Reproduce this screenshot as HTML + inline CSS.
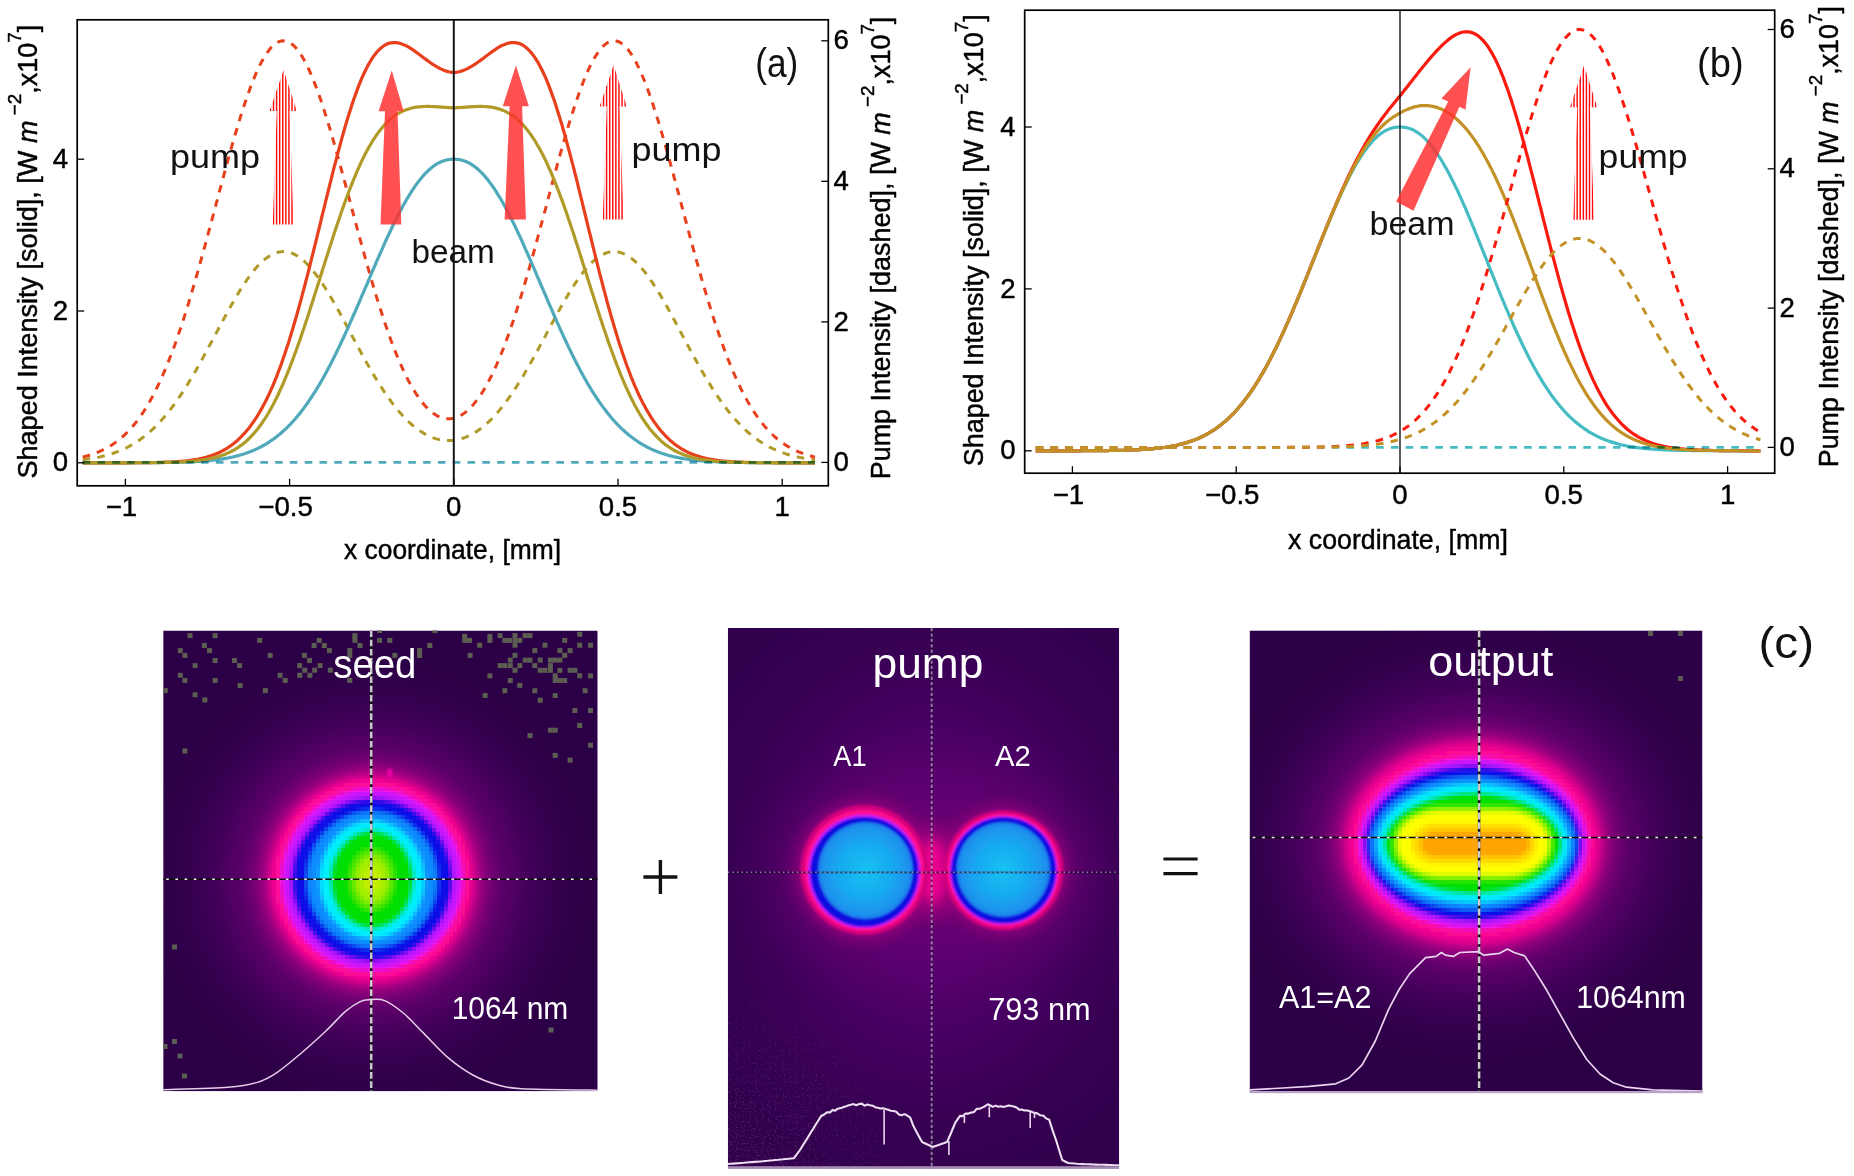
<!DOCTYPE html>
<html><head><meta charset="utf-8"><title>Beam shaping figure</title>
<style>html,body{margin:0;padding:0;background:#fff;}svg{display:block}</style></head><body>
<svg width="1854" height="1176" viewBox="0 0 1854 1176">
<defs>
<filter id="blur3" x="-20%" y="-20%" width="140%" height="140%"><feGaussianBlur stdDeviation="1.9"/></filter>
<filter id="pixSeed" filterUnits="userSpaceOnUse" x="163.2" y="630.5" width="435" height="460"><feFlood x="165.2" y="632.5" height="1" width="1"/><feComposite width="5" height="5"/><feTile result="a"/><feComposite in="SourceGraphic" in2="a" operator="in"/><feMorphology operator="dilate" radius="2"/></filter>
<filter id="pixOut" filterUnits="userSpaceOnUse" x="1249.6" y="630.4" width="455" height="465"><feFlood x="1251.6" y="632.4" height="1" width="1"/><feComposite width="5" height="5"/><feTile result="a"/><feComposite in="SourceGraphic" in2="a" operator="in"/><feMorphology operator="dilate" radius="2"/></filter>
<filter id="noise" filterUnits="userSpaceOnUse" x="727" y="1000" width="240" height="170"><feTurbulence type="fractalNoise" baseFrequency="0.85" numOctaves="1" seed="4"/><feColorMatrix values="0 0 0 0 0.82  0 0 0 0 0.72  0 0 0 0 0.86  0 0 0 3 -1.75"/></filter>
<radialGradient id="noiseG" gradientUnits="userSpaceOnUse" cx="728" cy="1168" r="215"><stop offset="0" stop-color="#fff" stop-opacity="0.5"/><stop offset="0.5" stop-color="#fff" stop-opacity="0.28"/><stop offset="1" stop-color="#fff" stop-opacity="0"/></radialGradient>
<mask id="noiseMask" maskUnits="userSpaceOnUse" x="727" y="1000" width="240" height="170"><rect x="727" y="1000" width="240" height="170" fill="url(#noiseG)"/></mask>
<filter id="blur60" x="-80%" y="-80%" width="260%" height="260%"><feGaussianBlur stdDeviation="52"/></filter>
<filter id="blur28" x="-50%" y="-50%" width="200%" height="200%"><feGaussianBlur stdDeviation="28"/></filter>
<filter id="blur16" x="-50%" y="-50%" width="200%" height="200%"><feGaussianBlur stdDeviation="16"/></filter>
<filter id="blur9" x="-50%" y="-50%" width="200%" height="200%"><feGaussianBlur stdDeviation="9"/></filter>
<filter id="blur5" x="-50%" y="-50%" width="200%" height="200%"><feGaussianBlur stdDeviation="4.5"/></filter>
<filter id="blur2" x="-20%" y="-20%" width="140%" height="140%"><feGaussianBlur stdDeviation="1.3"/></filter>
<radialGradient id="discFill"><stop offset="0" stop-color="#14c2f2"/><stop offset="0.55" stop-color="#18aaf0"/><stop offset="0.9" stop-color="#1e92ee"/><stop offset="1" stop-color="#2074ea"/></radialGradient>
<clipPath id="clipSeed"><rect x="163.2" y="630.5" width="434.5" height="460.8"/></clipPath>
<clipPath id="clipPump"><rect x="727.8" y="628" width="391.4" height="540.8"/></clipPath>
<clipPath id="clipOut"><rect x="1249.6" y="630.4" width="452.9" height="463"/></clipPath>
</defs>
<rect width="1854" height="1176" fill="#fff"/>
<g id="plotA"><path d="M82.7 459.7 L84.4 459.5 L86.0 459.3 L87.6 459.1 L89.3 458.8 L90.9 458.6 L92.6 458.3 L94.2 458.0 L95.8 457.7 L97.5 457.4 L99.1 457.1 L100.8 456.7 L102.4 456.3 L104.1 455.9 L105.7 455.5 L107.3 455.1 L109.0 454.6 L110.6 454.1 L112.3 453.6 L113.9 453.0 L115.5 452.4 L117.2 451.8 L118.8 451.2 L120.5 450.5 L122.1 449.8 L123.8 449.0 L125.4 448.3 L127.0 447.5 L128.7 446.6 L130.3 445.7 L132.0 444.8 L133.6 443.8 L135.3 442.8 L136.9 441.8 L138.5 440.7 L140.2 439.5 L141.8 438.3 L143.5 437.1 L145.1 435.8 L146.7 434.5 L148.4 433.1 L150.0 431.7 L151.7 430.2 L153.3 428.6 L155.0 427.1 L156.6 425.4 L158.2 423.7 L159.9 422.0 L161.5 420.2 L163.2 418.3 L164.8 416.4 L166.5 414.4 L168.1 412.4 L169.7 410.3 L171.4 408.2 L173.0 406.0 L174.7 403.8 L176.3 401.5 L177.9 399.1 L179.6 396.7 L181.2 394.3 L182.9 391.8 L184.5 389.2 L186.2 386.7 L187.8 384.0 L189.4 381.3 L191.1 378.6 L192.7 375.8 L194.4 373.0 L196.0 370.2 L197.6 367.3 L199.3 364.4 L200.9 361.4 L202.6 358.4 L204.2 355.4 L205.9 352.4 L207.5 349.4 L209.1 346.3 L210.8 343.2 L212.4 340.2 L214.1 337.1 L215.7 334.0 L217.4 330.9 L219.0 327.8 L220.6 324.7 L222.3 321.7 L223.9 318.6 L225.6 315.6 L227.2 312.6 L228.8 309.6 L230.5 306.7 L232.1 303.8 L233.8 300.9 L235.4 298.1 L237.1 295.3 L238.7 292.6 L240.3 289.9 L242.0 287.3 L243.6 284.7 L245.3 282.3 L246.9 279.9 L248.6 277.5 L250.2 275.3 L251.8 273.1 L253.5 271.0 L255.1 269.0 L256.8 267.1 L258.4 265.3 L260.0 263.6 L261.7 262.0 L263.3 260.6 L265.0 259.2 L266.6 257.9 L268.3 256.7 L269.9 255.7 L271.5 254.8 L273.2 253.9 L274.8 253.2 L276.5 252.7 L278.1 252.2 L279.7 251.9 L281.4 251.7 L283.0 251.6 L284.7 251.6 L286.3 251.8 L288.0 252.1 L289.6 252.5 L291.2 253.0 L292.9 253.6 L294.5 254.4 L296.2 255.3 L297.8 256.3 L299.5 257.4 L301.1 258.6 L302.7 260.0 L304.4 261.4 L306.0 263.0 L307.7 264.6 L309.3 266.4 L310.9 268.3 L312.6 270.2 L314.2 272.3 L315.9 274.4 L317.5 276.6 L319.2 278.9 L320.8 281.3 L322.4 283.7 L324.1 286.2 L325.7 288.8 L327.4 291.5 L329.0 294.2 L330.7 296.9 L332.3 299.7 L333.9 302.6 L335.6 305.5 L337.2 308.4 L338.9 311.3 L340.5 314.3 L342.1 317.3 L343.8 320.4 L345.4 323.4 L347.1 326.5 L348.7 329.6 L350.4 332.6 L352.0 335.7 L353.6 338.8 L355.3 341.9 L356.9 344.9 L358.6 348.0 L360.2 351.0 L361.8 354.0 L363.5 357.0 L365.1 360.0 L366.8 362.9 L368.4 365.8 L370.1 368.7 L371.7 371.5 L373.3 374.3 L375.0 377.1 L376.6 379.8 L378.3 382.4 L379.9 385.0 L381.6 387.6 L383.2 390.1 L384.8 392.6 L386.5 395.0 L388.1 397.4 L389.8 399.7 L391.4 401.9 L393.0 404.1 L394.7 406.2 L396.3 408.3 L398.0 410.3 L399.6 412.2 L401.3 414.1 L402.9 415.9 L404.5 417.6 L406.2 419.3 L407.8 420.9 L409.5 422.5 L411.1 424.0 L412.8 425.4 L414.4 426.8 L416.0 428.1 L417.7 429.3 L419.3 430.5 L421.0 431.6 L422.6 432.6 L424.2 433.6 L425.9 434.5 L427.5 435.3 L429.2 436.1 L430.8 436.9 L432.5 437.5 L434.1 438.1 L435.7 438.6 L437.4 439.1 L439.0 439.5 L440.7 439.8 L442.3 440.1 L443.9 440.3 L445.6 440.5 L447.2 440.6 L448.9 440.6 L450.5 440.5 L452.2 440.4 L453.8 440.3 L455.4 440.1 L457.1 439.8 L458.7 439.4 L460.4 439.0 L462.0 438.5 L463.7 438.0 L465.3 437.4 L466.9 436.7 L468.6 436.0 L470.2 435.2 L471.9 434.3 L473.5 433.4 L475.1 432.4 L476.8 431.4 L478.4 430.2 L480.1 429.1 L481.7 427.8 L483.4 426.5 L485.0 425.1 L486.6 423.7 L488.3 422.2 L489.9 420.6 L491.6 419.0 L493.2 417.3 L494.9 415.5 L496.5 413.7 L498.1 411.8 L499.8 409.9 L501.4 407.8 L503.1 405.8 L504.7 403.6 L506.3 401.4 L508.0 399.2 L509.6 396.9 L511.3 394.5 L512.9 392.1 L514.6 389.6 L516.2 387.1 L517.8 384.5 L519.5 381.9 L521.1 379.2 L522.8 376.5 L524.4 373.8 L526.0 370.9 L527.7 368.1 L529.3 365.2 L531.0 362.3 L532.6 359.4 L534.3 356.4 L535.9 353.4 L537.5 350.4 L539.2 347.4 L540.8 344.3 L542.5 341.3 L544.1 338.2 L545.8 335.1 L547.4 332.0 L549.0 329.0 L550.7 325.9 L552.3 322.8 L554.0 319.8 L555.6 316.7 L557.2 313.7 L558.9 310.7 L560.5 307.8 L562.2 304.9 L563.8 302.0 L565.5 299.1 L567.1 296.4 L568.7 293.6 L570.4 290.9 L572.0 288.3 L573.7 285.7 L575.3 283.2 L577.0 280.8 L578.6 278.4 L580.2 276.1 L581.9 273.9 L583.5 271.8 L585.2 269.8 L586.8 267.9 L588.4 266.0 L590.1 264.3 L591.7 262.7 L593.4 261.1 L595.0 259.7 L596.7 258.4 L598.3 257.2 L599.9 256.1 L601.6 255.1 L603.2 254.3 L604.9 253.5 L606.5 252.9 L608.1 252.4 L609.8 252.0 L611.4 251.7 L613.1 251.6 L614.7 251.6 L616.4 251.7 L618.0 251.9 L619.6 252.3 L621.3 252.8 L622.9 253.4 L624.6 254.1 L626.2 254.9 L627.9 255.9 L629.5 257.0 L631.1 258.1 L632.8 259.4 L634.4 260.8 L636.1 262.4 L637.7 264.0 L639.3 265.7 L641.0 267.5 L642.6 269.4 L644.3 271.4 L645.9 273.5 L647.6 275.7 L649.2 278.0 L650.8 280.3 L652.5 282.7 L654.1 285.2 L655.8 287.8 L657.4 290.4 L659.1 293.1 L660.7 295.8 L662.3 298.6 L664.0 301.5 L665.6 304.3 L667.3 307.3 L668.9 310.2 L670.5 313.2 L672.2 316.2 L673.8 319.2 L675.5 322.3 L677.1 325.4 L678.8 328.4 L680.4 331.5 L682.0 334.6 L683.7 337.7 L685.3 340.8 L687.0 343.9 L688.6 346.9 L690.2 350.0 L691.9 353.0 L693.5 356.0 L695.2 359.0 L696.8 362.0 L698.5 364.9 L700.1 367.9 L701.7 370.7 L703.4 373.6 L705.0 376.4 L706.7 379.1 L708.3 381.9 L710.0 384.5 L711.6 387.2 L713.2 389.8 L714.9 392.3 L716.5 394.8 L718.2 397.2 L719.8 399.6 L721.4 402.0 L723.1 404.2 L724.7 406.5 L726.4 408.6 L728.0 410.8 L729.7 412.8 L731.3 414.8 L732.9 416.8 L734.6 418.7 L736.2 420.5 L737.9 422.3 L739.5 424.1 L741.1 425.8 L742.8 427.4 L744.4 429.0 L746.1 430.5 L747.7 432.0 L749.4 433.4 L751.0 434.8 L752.6 436.1 L754.3 437.3 L755.9 438.6 L757.6 439.8 L759.2 440.9 L760.9 442.0 L762.5 443.0 L764.1 444.0 L765.8 445.0 L767.4 445.9 L769.1 446.8 L770.7 447.6 L772.3 448.4 L774.0 449.2 L775.6 449.9 L777.3 450.6 L778.9 451.3 L780.6 451.9 L782.2 452.5 L783.8 453.1 L785.5 453.7 L787.1 454.2 L788.8 454.7 L790.4 455.1 L792.1 455.6 L793.7 456.0 L795.3 456.4 L797.0 456.8 L798.6 457.1 L800.3 457.5 L801.9 457.8 L803.5 458.1 L805.2 458.4 L806.8 458.6 L808.5 458.9 L810.1 459.1 L811.8 459.3 L813.4 459.6 L815.0 459.7" fill="none" stroke="#b09a28" stroke-width="3" stroke-dasharray="7.6 7.2"/>
<path d="M82.7 457.0 L84.4 456.6 L86.0 456.2 L87.6 455.8 L89.3 455.3 L90.9 454.8 L92.6 454.2 L94.2 453.7 L95.8 453.1 L97.5 452.4 L99.1 451.7 L100.8 451.0 L102.4 450.2 L104.1 449.4 L105.7 448.6 L107.3 447.7 L109.0 446.8 L110.6 445.8 L112.3 444.7 L113.9 443.6 L115.5 442.4 L117.2 441.2 L118.8 439.9 L120.5 438.6 L122.1 437.2 L123.8 435.7 L125.4 434.1 L127.0 432.5 L128.7 430.8 L130.3 429.0 L132.0 427.2 L133.6 425.3 L135.3 423.2 L136.9 421.1 L138.5 418.9 L140.2 416.6 L141.8 414.3 L143.5 411.8 L145.1 409.2 L146.7 406.6 L148.4 403.8 L150.0 400.9 L151.7 398.0 L153.3 394.9 L155.0 391.7 L156.6 388.4 L158.2 385.1 L159.9 381.6 L161.5 378.0 L163.2 374.2 L164.8 370.4 L166.5 366.5 L168.1 362.4 L169.7 358.3 L171.4 354.0 L173.0 349.6 L174.7 345.2 L176.3 340.6 L177.9 335.9 L179.6 331.1 L181.2 326.2 L182.9 321.2 L184.5 316.1 L186.2 310.9 L187.8 305.6 L189.4 300.2 L191.1 294.8 L192.7 289.2 L194.4 283.6 L196.0 277.9 L197.6 272.2 L199.3 266.3 L200.9 260.4 L202.6 254.5 L204.2 248.5 L205.9 242.4 L207.5 236.4 L209.1 230.2 L210.8 224.1 L212.4 217.9 L214.1 211.8 L215.7 205.6 L217.4 199.4 L219.0 193.2 L220.6 187.1 L222.3 181.0 L223.9 174.9 L225.6 168.8 L227.2 162.8 L228.8 156.8 L230.5 150.9 L232.1 145.1 L233.8 139.4 L235.4 133.7 L237.1 128.2 L238.7 122.7 L240.3 117.4 L242.0 112.2 L243.6 107.1 L245.3 102.1 L246.9 97.3 L248.6 92.6 L250.2 88.1 L251.8 83.8 L253.5 79.7 L255.1 75.7 L256.8 71.9 L258.4 68.3 L260.0 64.9 L261.7 61.7 L263.3 58.7 L265.0 55.9 L266.6 53.4 L268.3 51.1 L269.9 49.0 L271.5 47.1 L273.2 45.5 L274.8 44.1 L276.5 42.9 L278.1 42.0 L279.7 41.4 L281.4 41.0 L283.0 40.8 L284.7 40.9 L286.3 41.2 L288.0 41.7 L289.6 42.5 L291.2 43.6 L292.9 44.9 L294.5 46.4 L296.2 48.2 L297.8 50.2 L299.5 52.4 L301.1 54.9 L302.7 57.6 L304.4 60.5 L306.0 63.6 L307.7 66.9 L309.3 70.4 L310.9 74.1 L312.6 78.0 L314.2 82.1 L315.9 86.4 L317.5 90.8 L319.2 95.4 L320.8 100.1 L322.4 105.0 L324.1 110.1 L325.7 115.2 L327.4 120.5 L329.0 125.9 L330.7 131.4 L332.3 137.0 L333.9 142.7 L335.6 148.5 L337.2 154.4 L338.9 160.3 L340.5 166.3 L342.1 172.3 L343.8 178.4 L345.4 184.5 L347.1 190.6 L348.7 196.7 L350.4 202.9 L352.0 209.0 L353.6 215.2 L355.3 221.3 L356.9 227.5 L358.6 233.6 L360.2 239.6 L361.8 245.6 L363.5 251.6 L365.1 257.5 L366.8 263.4 L368.4 269.2 L370.1 275.0 L371.7 280.6 L373.3 286.2 L375.0 291.7 L376.6 297.1 L378.3 302.5 L379.9 307.7 L381.6 312.8 L383.2 317.9 L384.8 322.8 L386.5 327.6 L388.1 332.3 L389.8 336.9 L391.4 341.4 L393.0 345.7 L394.7 350.0 L396.3 354.1 L398.0 358.1 L399.6 362.0 L401.3 365.7 L402.9 369.4 L404.5 372.8 L406.2 376.2 L407.8 379.5 L409.5 382.6 L411.1 385.6 L412.8 388.4 L414.4 391.1 L416.0 393.7 L417.7 396.2 L419.3 398.5 L421.0 400.7 L422.6 402.8 L424.2 404.8 L425.9 406.6 L427.5 408.3 L429.2 409.9 L430.8 411.3 L432.5 412.6 L434.1 413.8 L435.7 414.9 L437.4 415.8 L439.0 416.6 L440.7 417.3 L442.3 417.8 L443.9 418.2 L445.6 418.5 L447.2 418.7 L448.9 418.8 L450.5 418.7 L452.2 418.5 L453.8 418.2 L455.4 417.7 L457.1 417.1 L458.7 416.4 L460.4 415.6 L462.0 414.7 L463.7 413.6 L465.3 412.4 L466.9 411.0 L468.6 409.6 L470.2 408.0 L471.9 406.2 L473.5 404.4 L475.1 402.4 L476.8 400.3 L478.4 398.1 L480.1 395.7 L481.7 393.2 L483.4 390.6 L485.0 387.9 L486.6 385.0 L488.3 382.0 L489.9 378.8 L491.6 375.6 L493.2 372.2 L494.9 368.6 L496.5 365.0 L498.1 361.2 L499.8 357.3 L501.4 353.3 L503.1 349.1 L504.7 344.9 L506.3 340.5 L508.0 336.0 L509.6 331.4 L511.3 326.6 L512.9 321.8 L514.6 316.9 L516.2 311.8 L517.8 306.7 L519.5 301.4 L521.1 296.1 L522.8 290.6 L524.4 285.1 L526.0 279.5 L527.7 273.8 L529.3 268.1 L531.0 262.2 L532.6 256.4 L534.3 250.4 L535.9 244.4 L537.5 238.4 L539.2 232.3 L540.8 226.2 L542.5 220.1 L544.1 214.0 L545.8 207.8 L547.4 201.7 L549.0 195.5 L550.7 189.4 L552.3 183.2 L554.0 177.1 L555.6 171.1 L557.2 165.1 L558.9 159.1 L560.5 153.2 L562.2 147.3 L563.8 141.6 L565.5 135.9 L567.1 130.3 L568.7 124.8 L570.4 119.4 L572.0 114.2 L573.7 109.0 L575.3 104.0 L577.0 99.2 L578.6 94.5 L580.2 89.9 L581.9 85.5 L583.5 81.3 L585.2 77.2 L586.8 73.4 L588.4 69.7 L590.1 66.2 L591.7 62.9 L593.4 59.9 L595.0 57.0 L596.7 54.4 L598.3 52.0 L599.9 49.8 L601.6 47.8 L603.2 46.1 L604.9 44.6 L606.5 43.4 L608.1 42.4 L609.8 41.6 L611.4 41.1 L613.1 40.8 L614.7 40.8 L616.4 41.0 L618.0 41.5 L619.6 42.2 L621.3 43.2 L622.9 44.4 L624.6 45.8 L626.2 47.5 L627.9 49.4 L629.5 51.5 L631.1 53.9 L632.8 56.5 L634.4 59.3 L636.1 62.3 L637.7 65.6 L639.3 69.0 L641.0 72.6 L642.6 76.5 L644.3 80.5 L645.9 84.7 L647.6 89.0 L649.2 93.6 L650.8 98.3 L652.5 103.1 L654.1 108.1 L655.8 113.2 L657.4 118.4 L659.1 123.8 L660.7 129.3 L662.3 134.8 L664.0 140.5 L665.6 146.3 L667.3 152.1 L668.9 158.0 L670.5 164.0 L672.2 170.0 L673.8 176.1 L675.5 182.2 L677.1 188.3 L678.8 194.5 L680.4 200.6 L682.0 206.8 L683.7 213.0 L685.3 219.2 L687.0 225.3 L688.6 231.5 L690.2 237.6 L691.9 243.7 L693.5 249.7 L695.2 255.7 L696.8 261.6 L698.5 267.5 L700.1 273.3 L701.7 279.1 L703.4 284.8 L705.0 290.4 L706.7 295.9 L708.3 301.3 L710.0 306.7 L711.6 312.0 L713.2 317.1 L714.9 322.2 L716.5 327.2 L718.2 332.1 L719.8 336.8 L721.4 341.5 L723.1 346.1 L724.7 350.5 L726.4 354.9 L728.0 359.1 L729.7 363.3 L731.3 367.3 L732.9 371.2 L734.6 375.0 L736.2 378.7 L737.9 382.3 L739.5 385.7 L741.1 389.1 L742.8 392.4 L744.4 395.5 L746.1 398.6 L747.7 401.5 L749.4 404.4 L751.0 407.1 L752.6 409.7 L754.3 412.3 L755.9 414.7 L757.6 417.1 L759.2 419.4 L760.9 421.6 L762.5 423.6 L764.1 425.6 L765.8 427.6 L767.4 429.4 L769.1 431.2 L770.7 432.9 L772.3 434.5 L774.0 436.0 L775.6 437.5 L777.3 438.9 L778.9 440.2 L780.6 441.5 L782.2 442.7 L783.8 443.8 L785.5 444.9 L787.1 446.0 L788.8 446.9 L790.4 447.9 L792.1 448.8 L793.7 449.6 L795.3 450.4 L797.0 451.2 L798.6 451.9 L800.3 452.5 L801.9 453.2 L803.5 453.8 L805.2 454.3 L806.8 454.9 L808.5 455.4 L810.1 455.8 L811.8 456.3 L813.4 456.7 L815.0 457.1" fill="none" stroke="#e8401c" stroke-width="3" stroke-dasharray="7.6 7.2"/>
<path d="M82.7 462.8 L84.4 462.8 L86.0 462.8 L87.6 462.8 L89.3 462.8 L90.9 462.8 L92.6 462.8 L94.2 462.8 L95.8 462.8 L97.5 462.8 L99.1 462.8 L100.8 462.8 L102.4 462.8 L104.1 462.8 L105.7 462.8 L107.3 462.8 L109.0 462.8 L110.6 462.8 L112.3 462.8 L113.9 462.8 L115.5 462.8 L117.2 462.8 L118.8 462.8 L120.5 462.8 L122.1 462.8 L123.8 462.8 L125.4 462.8 L127.0 462.8 L128.7 462.8 L130.3 462.8 L132.0 462.8 L133.6 462.8 L135.3 462.7 L136.9 462.7 L138.5 462.7 L140.2 462.7 L141.8 462.7 L143.5 462.7 L145.1 462.7 L146.7 462.7 L148.4 462.7 L150.0 462.7 L151.7 462.7 L153.3 462.7 L155.0 462.6 L156.6 462.6 L158.2 462.6 L159.9 462.6 L161.5 462.6 L163.2 462.6 L164.8 462.5 L166.5 462.5 L168.1 462.5 L169.7 462.5 L171.4 462.4 L173.0 462.4 L174.7 462.4 L176.3 462.3 L177.9 462.3 L179.6 462.2 L181.2 462.2 L182.9 462.1 L184.5 462.1 L186.2 462.0 L187.8 461.9 L189.4 461.9 L191.1 461.8 L192.7 461.7 L194.4 461.6 L196.0 461.6 L197.6 461.5 L199.3 461.4 L200.9 461.2 L202.6 461.1 L204.2 461.0 L205.9 460.9 L207.5 460.7 L209.1 460.6 L210.8 460.4 L212.4 460.2 L214.1 460.0 L215.7 459.8 L217.4 459.6 L219.0 459.4 L220.6 459.2 L222.3 458.9 L223.9 458.7 L225.6 458.4 L227.2 458.1 L228.8 457.8 L230.5 457.4 L232.1 457.1 L233.8 456.7 L235.4 456.3 L237.1 455.9 L238.7 455.5 L240.3 455.0 L242.0 454.5 L243.6 454.0 L245.3 453.5 L246.9 452.9 L248.6 452.3 L250.2 451.7 L251.8 451.0 L253.5 450.4 L255.1 449.6 L256.8 448.9 L258.4 448.1 L260.0 447.3 L261.7 446.4 L263.3 445.5 L265.0 444.6 L266.6 443.6 L268.3 442.6 L269.9 441.5 L271.5 440.4 L273.2 439.3 L274.8 438.1 L276.5 436.8 L278.1 435.5 L279.7 434.2 L281.4 432.8 L283.0 431.3 L284.7 429.8 L286.3 428.3 L288.0 426.7 L289.6 425.0 L291.2 423.3 L292.9 421.5 L294.5 419.7 L296.2 417.8 L297.8 415.8 L299.5 413.8 L301.1 411.7 L302.7 409.6 L304.4 407.4 L306.0 405.1 L307.7 402.8 L309.3 400.4 L310.9 398.0 L312.6 395.5 L314.2 392.9 L315.9 390.3 L317.5 387.6 L319.2 384.9 L320.8 382.0 L322.4 379.2 L324.1 376.3 L325.7 373.3 L327.4 370.2 L329.0 367.1 L330.7 364.0 L332.3 360.8 L333.9 357.5 L335.6 354.2 L337.2 350.8 L338.9 347.4 L340.5 344.0 L342.1 340.5 L343.8 337.0 L345.4 333.4 L347.1 329.8 L348.7 326.1 L350.4 322.4 L352.0 318.7 L353.6 315.0 L355.3 311.2 L356.9 307.4 L358.6 303.6 L360.2 299.8 L361.8 296.0 L363.5 292.2 L365.1 288.3 L366.8 284.5 L368.4 280.6 L370.1 276.8 L371.7 272.9 L373.3 269.1 L375.0 265.3 L376.6 261.5 L378.3 257.7 L379.9 254.0 L381.6 250.3 L383.2 246.6 L384.8 242.9 L386.5 239.3 L388.1 235.7 L389.8 232.2 L391.4 228.8 L393.0 225.3 L394.7 222.0 L396.3 218.7 L398.0 215.4 L399.6 212.3 L401.3 209.2 L402.9 206.1 L404.5 203.2 L406.2 200.3 L407.8 197.5 L409.5 194.8 L411.1 192.2 L412.8 189.7 L414.4 187.2 L416.0 184.9 L417.7 182.6 L419.3 180.5 L421.0 178.4 L422.6 176.5 L424.2 174.6 L425.9 172.9 L427.5 171.3 L429.2 169.7 L430.8 168.3 L432.5 167.0 L434.1 165.8 L435.7 164.6 L437.4 163.6 L439.0 162.7 L440.7 162.0 L442.3 161.3 L443.9 160.7 L445.6 160.2 L447.2 159.8 L448.9 159.5 L450.5 159.3 L452.2 159.2 L453.8 159.2 L455.4 159.2 L457.1 159.3 L458.7 159.5 L460.4 159.8 L462.0 160.2 L463.7 160.7 L465.3 161.3 L466.9 162.0 L468.6 162.7 L470.2 163.6 L471.9 164.6 L473.5 165.8 L475.1 167.0 L476.8 168.3 L478.4 169.7 L480.1 171.3 L481.7 172.9 L483.4 174.6 L485.0 176.5 L486.6 178.4 L488.3 180.5 L489.9 182.6 L491.6 184.9 L493.2 187.2 L494.9 189.7 L496.5 192.2 L498.1 194.8 L499.8 197.5 L501.4 200.3 L503.1 203.2 L504.7 206.1 L506.3 209.2 L508.0 212.3 L509.6 215.4 L511.3 218.7 L512.9 222.0 L514.6 225.3 L516.2 228.8 L517.8 232.2 L519.5 235.7 L521.1 239.3 L522.8 242.9 L524.4 246.6 L526.0 250.3 L527.7 254.0 L529.3 257.7 L531.0 261.5 L532.6 265.3 L534.3 269.1 L535.9 272.9 L537.5 276.8 L539.2 280.6 L540.8 284.5 L542.5 288.3 L544.1 292.2 L545.8 296.0 L547.4 299.8 L549.0 303.6 L550.7 307.4 L552.3 311.2 L554.0 315.0 L555.6 318.7 L557.2 322.4 L558.9 326.1 L560.5 329.8 L562.2 333.4 L563.8 337.0 L565.5 340.5 L567.1 344.0 L568.7 347.4 L570.4 350.8 L572.0 354.2 L573.7 357.5 L575.3 360.8 L577.0 364.0 L578.6 367.1 L580.2 370.2 L581.9 373.3 L583.5 376.3 L585.2 379.2 L586.8 382.0 L588.4 384.9 L590.1 387.6 L591.7 390.3 L593.4 392.9 L595.0 395.5 L596.7 398.0 L598.3 400.4 L599.9 402.8 L601.6 405.1 L603.2 407.4 L604.9 409.6 L606.5 411.7 L608.1 413.8 L609.8 415.8 L611.4 417.8 L613.1 419.7 L614.7 421.5 L616.4 423.3 L618.0 425.0 L619.6 426.7 L621.3 428.3 L622.9 429.8 L624.6 431.3 L626.2 432.8 L627.9 434.2 L629.5 435.5 L631.1 436.8 L632.8 438.1 L634.4 439.3 L636.1 440.4 L637.7 441.5 L639.3 442.6 L641.0 443.6 L642.6 444.6 L644.3 445.5 L645.9 446.4 L647.6 447.3 L649.2 448.1 L650.8 448.9 L652.5 449.6 L654.1 450.4 L655.8 451.0 L657.4 451.7 L659.1 452.3 L660.7 452.9 L662.3 453.5 L664.0 454.0 L665.6 454.5 L667.3 455.0 L668.9 455.5 L670.5 455.9 L672.2 456.3 L673.8 456.7 L675.5 457.1 L677.1 457.4 L678.8 457.8 L680.4 458.1 L682.0 458.4 L683.7 458.7 L685.3 458.9 L687.0 459.2 L688.6 459.4 L690.2 459.6 L691.9 459.8 L693.5 460.0 L695.2 460.2 L696.8 460.4 L698.5 460.6 L700.1 460.7 L701.7 460.9 L703.4 461.0 L705.0 461.1 L706.7 461.2 L708.3 461.4 L710.0 461.5 L711.6 461.6 L713.2 461.6 L714.9 461.7 L716.5 461.8 L718.2 461.9 L719.8 461.9 L721.4 462.0 L723.1 462.1 L724.7 462.1 L726.4 462.2 L728.0 462.2 L729.7 462.3 L731.3 462.3 L732.9 462.4 L734.6 462.4 L736.2 462.4 L737.9 462.5 L739.5 462.5 L741.1 462.5 L742.8 462.5 L744.4 462.6 L746.1 462.6 L747.7 462.6 L749.4 462.6 L751.0 462.6 L752.6 462.6 L754.3 462.7 L755.9 462.7 L757.6 462.7 L759.2 462.7 L760.9 462.7 L762.5 462.7 L764.1 462.7 L765.8 462.7 L767.4 462.7 L769.1 462.7 L770.7 462.7 L772.3 462.7 L774.0 462.8 L775.6 462.8 L777.3 462.8 L778.9 462.8 L780.6 462.8 L782.2 462.8 L783.8 462.8 L785.5 462.8 L787.1 462.8 L788.8 462.8 L790.4 462.8 L792.1 462.8 L793.7 462.8 L795.3 462.8 L797.0 462.8 L798.6 462.8 L800.3 462.8 L801.9 462.8 L803.5 462.8 L805.2 462.8 L806.8 462.8 L808.5 462.8 L810.1 462.8 L811.8 462.8 L813.4 462.8 L815.0 462.8" fill="none" stroke="#4fa9ba" stroke-width="3.2"/>
<path d="M82.7 462.8 L84.4 462.8 L86.0 462.8 L87.6 462.8 L89.3 462.8 L90.9 462.8 L92.6 462.8 L94.2 462.8 L95.8 462.8 L97.5 462.8 L99.1 462.8 L100.8 462.8 L102.4 462.8 L104.1 462.8 L105.7 462.8 L107.3 462.8 L109.0 462.8 L110.6 462.8 L112.3 462.8 L113.9 462.8 L115.5 462.8 L117.2 462.8 L118.8 462.8 L120.5 462.8 L122.1 462.8 L123.8 462.8 L125.4 462.8 L127.0 462.8 L128.7 462.7 L130.3 462.7 L132.0 462.7 L133.6 462.7 L135.3 462.7 L136.9 462.7 L138.5 462.7 L140.2 462.7 L141.8 462.7 L143.5 462.7 L145.1 462.6 L146.7 462.6 L148.4 462.6 L150.0 462.6 L151.7 462.5 L153.3 462.5 L155.0 462.5 L156.6 462.5 L158.2 462.4 L159.9 462.4 L161.5 462.3 L163.2 462.3 L164.8 462.2 L166.5 462.2 L168.1 462.1 L169.7 462.0 L171.4 462.0 L173.0 461.9 L174.7 461.8 L176.3 461.7 L177.9 461.6 L179.6 461.4 L181.2 461.3 L182.9 461.2 L184.5 461.0 L186.2 460.8 L187.8 460.7 L189.4 460.5 L191.1 460.2 L192.7 460.0 L194.4 459.7 L196.0 459.5 L197.6 459.2 L199.3 458.9 L200.9 458.5 L202.6 458.1 L204.2 457.7 L205.9 457.3 L207.5 456.8 L209.1 456.3 L210.8 455.8 L212.4 455.3 L214.1 454.6 L215.7 454.0 L217.4 453.3 L219.0 452.6 L220.6 451.8 L222.3 450.9 L223.9 450.0 L225.6 449.1 L227.2 448.1 L228.8 447.0 L230.5 445.9 L232.1 444.7 L233.8 443.4 L235.4 442.1 L237.1 440.7 L238.7 439.2 L240.3 437.6 L242.0 436.0 L243.6 434.2 L245.3 432.4 L246.9 430.5 L248.6 428.5 L250.2 426.4 L251.8 424.1 L253.5 421.8 L255.1 419.4 L256.8 416.9 L258.4 414.2 L260.0 411.4 L261.7 408.6 L263.3 405.6 L265.0 402.4 L266.6 399.2 L268.3 395.8 L269.9 392.3 L271.5 388.6 L273.2 384.8 L274.8 380.9 L276.5 376.8 L278.1 372.5 L279.7 368.2 L281.4 363.7 L283.0 359.0 L284.7 354.2 L286.3 349.3 L288.0 344.3 L289.6 339.1 L291.2 333.8 L292.9 328.3 L294.5 322.7 L296.2 317.0 L297.8 311.2 L299.5 305.3 L301.1 299.3 L302.7 293.2 L304.4 287.0 L306.0 280.7 L307.7 274.3 L309.3 267.8 L310.9 261.3 L312.6 254.7 L314.2 248.1 L315.9 241.4 L317.5 234.7 L319.2 228.0 L320.8 221.3 L322.4 214.5 L324.1 207.8 L325.7 201.1 L327.4 194.4 L329.0 187.8 L330.7 181.2 L332.3 174.7 L333.9 168.2 L335.6 161.9 L337.2 155.6 L338.9 149.4 L340.5 143.3 L342.1 137.4 L343.8 131.5 L345.4 125.8 L347.1 120.3 L348.7 114.9 L350.4 109.7 L352.0 104.6 L353.6 99.8 L355.3 95.1 L356.9 90.6 L358.6 86.2 L360.2 82.1 L361.8 78.2 L363.5 74.5 L365.1 71.0 L366.8 67.7 L368.4 64.6 L370.1 61.7 L371.7 59.1 L373.3 56.6 L375.0 54.4 L376.6 52.4 L378.3 50.5 L379.9 48.9 L381.6 47.5 L383.2 46.2 L384.8 45.2 L386.5 44.3 L388.1 43.6 L389.8 43.1 L391.4 42.8 L393.0 42.6 L394.7 42.6 L396.3 42.7 L398.0 42.9 L399.6 43.3 L401.3 43.8 L402.9 44.4 L404.5 45.1 L406.2 45.8 L407.8 46.7 L409.5 47.7 L411.1 48.7 L412.8 49.8 L414.4 50.9 L416.0 52.1 L417.7 53.2 L419.3 54.5 L421.0 55.7 L422.6 56.9 L424.2 58.2 L425.9 59.4 L427.5 60.6 L429.2 61.8 L430.8 63.0 L432.5 64.1 L434.1 65.2 L435.7 66.2 L437.4 67.1 L439.0 68.0 L440.7 68.9 L442.3 69.6 L443.9 70.3 L445.6 70.9 L447.2 71.4 L448.9 71.8 L450.5 72.1 L452.2 72.3 L453.8 72.4 L455.4 72.3 L457.1 72.1 L458.7 71.8 L460.4 71.4 L462.0 70.9 L463.7 70.3 L465.3 69.6 L466.9 68.9 L468.6 68.0 L470.2 67.1 L471.9 66.2 L473.5 65.2 L475.1 64.1 L476.8 63.0 L478.4 61.8 L480.1 60.6 L481.7 59.4 L483.4 58.2 L485.0 56.9 L486.6 55.7 L488.3 54.5 L489.9 53.2 L491.6 52.1 L493.2 50.9 L494.9 49.8 L496.5 48.7 L498.1 47.7 L499.8 46.7 L501.4 45.8 L503.1 45.1 L504.7 44.4 L506.3 43.8 L508.0 43.3 L509.6 42.9 L511.3 42.7 L512.9 42.6 L514.6 42.6 L516.2 42.8 L517.8 43.1 L519.5 43.6 L521.1 44.3 L522.8 45.2 L524.4 46.2 L526.0 47.5 L527.7 48.9 L529.3 50.5 L531.0 52.4 L532.6 54.4 L534.3 56.6 L535.9 59.1 L537.5 61.7 L539.2 64.6 L540.8 67.7 L542.5 71.0 L544.1 74.5 L545.8 78.2 L547.4 82.1 L549.0 86.2 L550.7 90.6 L552.3 95.1 L554.0 99.8 L555.6 104.6 L557.2 109.7 L558.9 114.9 L560.5 120.3 L562.2 125.8 L563.8 131.5 L565.5 137.4 L567.1 143.3 L568.7 149.4 L570.4 155.6 L572.0 161.9 L573.7 168.2 L575.3 174.7 L577.0 181.2 L578.6 187.8 L580.2 194.4 L581.9 201.1 L583.5 207.8 L585.2 214.5 L586.8 221.3 L588.4 228.0 L590.1 234.7 L591.7 241.4 L593.4 248.1 L595.0 254.7 L596.7 261.3 L598.3 267.8 L599.9 274.3 L601.6 280.7 L603.2 287.0 L604.9 293.2 L606.5 299.3 L608.1 305.3 L609.8 311.2 L611.4 317.0 L613.1 322.7 L614.7 328.3 L616.4 333.8 L618.0 339.1 L619.6 344.3 L621.3 349.3 L622.9 354.2 L624.6 359.0 L626.2 363.7 L627.9 368.2 L629.5 372.5 L631.1 376.8 L632.8 380.9 L634.4 384.8 L636.1 388.6 L637.7 392.3 L639.3 395.8 L641.0 399.2 L642.6 402.4 L644.3 405.6 L645.9 408.6 L647.6 411.4 L649.2 414.2 L650.8 416.9 L652.5 419.4 L654.1 421.8 L655.8 424.1 L657.4 426.4 L659.1 428.5 L660.7 430.5 L662.3 432.4 L664.0 434.2 L665.6 436.0 L667.3 437.6 L668.9 439.2 L670.5 440.7 L672.2 442.1 L673.8 443.4 L675.5 444.7 L677.1 445.9 L678.8 447.0 L680.4 448.1 L682.0 449.1 L683.7 450.0 L685.3 450.9 L687.0 451.8 L688.6 452.6 L690.2 453.3 L691.9 454.0 L693.5 454.6 L695.2 455.3 L696.8 455.8 L698.5 456.3 L700.1 456.8 L701.7 457.3 L703.4 457.7 L705.0 458.1 L706.7 458.5 L708.3 458.9 L710.0 459.2 L711.6 459.5 L713.2 459.7 L714.9 460.0 L716.5 460.2 L718.2 460.5 L719.8 460.7 L721.4 460.8 L723.1 461.0 L724.7 461.2 L726.4 461.3 L728.0 461.4 L729.7 461.6 L731.3 461.7 L732.9 461.8 L734.6 461.9 L736.2 462.0 L737.9 462.0 L739.5 462.1 L741.1 462.2 L742.8 462.2 L744.4 462.3 L746.1 462.3 L747.7 462.4 L749.4 462.4 L751.0 462.5 L752.6 462.5 L754.3 462.5 L755.9 462.5 L757.6 462.6 L759.2 462.6 L760.9 462.6 L762.5 462.6 L764.1 462.7 L765.8 462.7 L767.4 462.7 L769.1 462.7 L770.7 462.7 L772.3 462.7 L774.0 462.7 L775.6 462.7 L777.3 462.7 L778.9 462.7 L780.6 462.8 L782.2 462.8 L783.8 462.8 L785.5 462.8 L787.1 462.8 L788.8 462.8 L790.4 462.8 L792.1 462.8 L793.7 462.8 L795.3 462.8 L797.0 462.8 L798.6 462.8 L800.3 462.8 L801.9 462.8 L803.5 462.8 L805.2 462.8 L806.8 462.8 L808.5 462.8 L810.1 462.8 L811.8 462.8 L813.4 462.8 L815.0 462.8" fill="none" stroke="#e8401c" stroke-width="3.2"/>
<path d="M82.7 462.8 L84.4 462.8 L86.0 462.8 L87.6 462.8 L89.3 462.8 L90.9 462.8 L92.6 462.8 L94.2 462.8 L95.8 462.8 L97.5 462.8 L99.1 462.8 L100.8 462.8 L102.4 462.8 L104.1 462.8 L105.7 462.8 L107.3 462.8 L109.0 462.8 L110.6 462.8 L112.3 462.8 L113.9 462.8 L115.5 462.8 L117.2 462.8 L118.8 462.8 L120.5 462.8 L122.1 462.8 L123.8 462.8 L125.4 462.8 L127.0 462.8 L128.7 462.8 L130.3 462.8 L132.0 462.8 L133.6 462.7 L135.3 462.7 L136.9 462.7 L138.5 462.7 L140.2 462.7 L141.8 462.7 L143.5 462.7 L145.1 462.7 L146.7 462.7 L148.4 462.7 L150.0 462.7 L151.7 462.6 L153.3 462.6 L155.0 462.6 L156.6 462.6 L158.2 462.6 L159.9 462.5 L161.5 462.5 L163.2 462.5 L164.8 462.4 L166.5 462.4 L168.1 462.4 L169.7 462.3 L171.4 462.3 L173.0 462.2 L174.7 462.2 L176.3 462.1 L177.9 462.1 L179.6 462.0 L181.2 461.9 L182.9 461.8 L184.5 461.7 L186.2 461.6 L187.8 461.5 L189.4 461.4 L191.1 461.3 L192.7 461.1 L194.4 461.0 L196.0 460.8 L197.6 460.6 L199.3 460.4 L200.9 460.2 L202.6 460.0 L204.2 459.7 L205.9 459.5 L207.5 459.2 L209.1 458.8 L210.8 458.5 L212.4 458.1 L214.1 457.7 L215.7 457.3 L217.4 456.9 L219.0 456.4 L220.6 455.8 L222.3 455.3 L223.9 454.7 L225.6 454.0 L227.2 453.3 L228.8 452.6 L230.5 451.8 L232.1 451.0 L233.8 450.1 L235.4 449.1 L237.1 448.1 L238.7 447.0 L240.3 445.9 L242.0 444.7 L243.6 443.4 L245.3 442.0 L246.9 440.6 L248.6 439.0 L250.2 437.4 L251.8 435.7 L253.5 433.9 L255.1 432.0 L256.8 430.1 L258.4 428.0 L260.0 425.8 L261.7 423.5 L263.3 421.1 L265.0 418.7 L266.6 416.0 L268.3 413.3 L269.9 410.5 L271.5 407.6 L273.2 404.5 L274.8 401.3 L276.5 398.1 L278.1 394.7 L279.7 391.1 L281.4 387.5 L283.0 383.8 L284.7 379.9 L286.3 376.0 L288.0 371.9 L289.6 367.8 L291.2 363.6 L292.9 359.2 L294.5 354.8 L296.2 350.3 L297.8 345.7 L299.5 341.1 L301.1 336.3 L302.7 331.5 L304.4 326.7 L306.0 321.7 L307.7 316.7 L309.3 311.7 L310.9 306.6 L312.6 301.5 L314.2 296.3 L315.9 291.2 L317.5 286.0 L319.2 280.7 L320.8 275.5 L322.4 270.3 L324.1 265.1 L325.7 259.9 L327.4 254.7 L329.0 249.6 L330.7 244.4 L332.3 239.4 L333.9 234.3 L335.6 229.3 L337.2 224.4 L338.9 219.5 L340.5 214.8 L342.1 210.0 L343.8 205.4 L345.4 200.8 L347.1 196.4 L348.7 192.0 L350.4 187.7 L352.0 183.6 L353.6 179.5 L355.3 175.6 L356.9 171.7 L358.6 168.0 L360.2 164.4 L361.8 160.9 L363.5 157.5 L365.1 154.3 L366.8 151.1 L368.4 148.1 L370.1 145.2 L371.7 142.5 L373.3 139.8 L375.0 137.3 L376.6 134.9 L378.3 132.6 L379.9 130.4 L381.6 128.4 L383.2 126.5 L384.8 124.6 L386.5 122.9 L388.1 121.3 L389.8 119.8 L391.4 118.4 L393.0 117.1 L394.7 115.9 L396.3 114.7 L398.0 113.7 L399.6 112.8 L401.3 111.9 L402.9 111.1 L404.5 110.4 L406.2 109.8 L407.8 109.2 L409.5 108.7 L411.1 108.2 L412.8 107.8 L414.4 107.5 L416.0 107.2 L417.7 107.0 L419.3 106.8 L421.0 106.7 L422.6 106.6 L424.2 106.5 L425.9 106.4 L427.5 106.4 L429.2 106.4 L430.8 106.5 L432.5 106.6 L434.1 106.6 L435.7 106.7 L437.4 106.8 L439.0 106.9 L440.7 107.1 L442.3 107.2 L443.9 107.3 L445.6 107.4 L447.2 107.5 L448.9 107.6 L450.5 107.7 L452.2 107.8 L453.8 107.8 L455.4 107.8 L457.1 107.7 L458.7 107.6 L460.4 107.5 L462.0 107.4 L463.7 107.3 L465.3 107.2 L466.9 107.1 L468.6 106.9 L470.2 106.8 L471.9 106.7 L473.5 106.6 L475.1 106.6 L476.8 106.5 L478.4 106.4 L480.1 106.4 L481.7 106.4 L483.4 106.5 L485.0 106.6 L486.6 106.7 L488.3 106.8 L489.9 107.0 L491.6 107.2 L493.2 107.5 L494.9 107.8 L496.5 108.2 L498.1 108.7 L499.8 109.2 L501.4 109.8 L503.1 110.4 L504.7 111.1 L506.3 111.9 L508.0 112.8 L509.6 113.7 L511.3 114.7 L512.9 115.9 L514.6 117.1 L516.2 118.4 L517.8 119.8 L519.5 121.3 L521.1 122.9 L522.8 124.6 L524.4 126.5 L526.0 128.4 L527.7 130.4 L529.3 132.6 L531.0 134.9 L532.6 137.3 L534.3 139.8 L535.9 142.5 L537.5 145.2 L539.2 148.1 L540.8 151.1 L542.5 154.3 L544.1 157.5 L545.8 160.9 L547.4 164.4 L549.0 168.0 L550.7 171.7 L552.3 175.6 L554.0 179.5 L555.6 183.6 L557.2 187.7 L558.9 192.0 L560.5 196.4 L562.2 200.8 L563.8 205.4 L565.5 210.0 L567.1 214.8 L568.7 219.5 L570.4 224.4 L572.0 229.3 L573.7 234.3 L575.3 239.4 L577.0 244.4 L578.6 249.6 L580.2 254.7 L581.9 259.9 L583.5 265.1 L585.2 270.3 L586.8 275.5 L588.4 280.7 L590.1 286.0 L591.7 291.2 L593.4 296.3 L595.0 301.5 L596.7 306.6 L598.3 311.7 L599.9 316.7 L601.6 321.7 L603.2 326.7 L604.9 331.5 L606.5 336.3 L608.1 341.1 L609.8 345.7 L611.4 350.3 L613.1 354.8 L614.7 359.2 L616.4 363.6 L618.0 367.8 L619.6 371.9 L621.3 376.0 L622.9 379.9 L624.6 383.8 L626.2 387.5 L627.9 391.1 L629.5 394.7 L631.1 398.1 L632.8 401.3 L634.4 404.5 L636.1 407.6 L637.7 410.5 L639.3 413.3 L641.0 416.0 L642.6 418.7 L644.3 421.1 L645.9 423.5 L647.6 425.8 L649.2 428.0 L650.8 430.1 L652.5 432.0 L654.1 433.9 L655.8 435.7 L657.4 437.4 L659.1 439.0 L660.7 440.6 L662.3 442.0 L664.0 443.4 L665.6 444.7 L667.3 445.9 L668.9 447.0 L670.5 448.1 L672.2 449.1 L673.8 450.1 L675.5 451.0 L677.1 451.8 L678.8 452.6 L680.4 453.3 L682.0 454.0 L683.7 454.7 L685.3 455.3 L687.0 455.8 L688.6 456.4 L690.2 456.9 L691.9 457.3 L693.5 457.7 L695.2 458.1 L696.8 458.5 L698.5 458.8 L700.1 459.2 L701.7 459.5 L703.4 459.7 L705.0 460.0 L706.7 460.2 L708.3 460.4 L710.0 460.6 L711.6 460.8 L713.2 461.0 L714.9 461.1 L716.5 461.3 L718.2 461.4 L719.8 461.5 L721.4 461.6 L723.1 461.7 L724.7 461.8 L726.4 461.9 L728.0 462.0 L729.7 462.1 L731.3 462.1 L732.9 462.2 L734.6 462.2 L736.2 462.3 L737.9 462.3 L739.5 462.4 L741.1 462.4 L742.8 462.4 L744.4 462.5 L746.1 462.5 L747.7 462.5 L749.4 462.6 L751.0 462.6 L752.6 462.6 L754.3 462.6 L755.9 462.6 L757.6 462.7 L759.2 462.7 L760.9 462.7 L762.5 462.7 L764.1 462.7 L765.8 462.7 L767.4 462.7 L769.1 462.7 L770.7 462.7 L772.3 462.7 L774.0 462.7 L775.6 462.8 L777.3 462.8 L778.9 462.8 L780.6 462.8 L782.2 462.8 L783.8 462.8 L785.5 462.8 L787.1 462.8 L788.8 462.8 L790.4 462.8 L792.1 462.8 L793.7 462.8 L795.3 462.8 L797.0 462.8 L798.6 462.8 L800.3 462.8 L801.9 462.8 L803.5 462.8 L805.2 462.8 L806.8 462.8 L808.5 462.8 L810.1 462.8 L811.8 462.8 L813.4 462.8 L815.0 462.8" fill="none" stroke="#b09a28" stroke-width="3.2"/>
<path d="M82.7 462.4 L84.4 462.4 L86.0 462.4 L87.6 462.4 L89.3 462.4 L90.9 462.4 L92.6 462.4 L94.2 462.4 L95.8 462.4 L97.5 462.4 L99.1 462.4 L100.8 462.4 L102.4 462.4 L104.1 462.4 L105.7 462.4 L107.3 462.4 L109.0 462.4 L110.6 462.4 L112.3 462.4 L113.9 462.4 L115.5 462.4 L117.2 462.4 L118.8 462.4 L120.5 462.4 L122.1 462.4 L123.8 462.4 L125.4 462.4 L127.0 462.4 L128.7 462.4 L130.3 462.4 L132.0 462.4 L133.6 462.4 L135.3 462.4 L136.9 462.4 L138.5 462.4 L140.2 462.4 L141.8 462.4 L143.5 462.4 L145.1 462.4 L146.7 462.4 L148.4 462.4 L150.0 462.4 L151.7 462.4 L153.3 462.4 L155.0 462.4 L156.6 462.4 L158.2 462.4 L159.9 462.4 L161.5 462.4 L163.2 462.4 L164.8 462.4 L166.5 462.4 L168.1 462.4 L169.7 462.4 L171.4 462.4 L173.0 462.4 L174.7 462.4 L176.3 462.4 L177.9 462.4 L179.6 462.4 L181.2 462.4 L182.9 462.4 L184.5 462.4 L186.2 462.4 L187.8 462.4 L189.4 462.4 L191.1 462.4 L192.7 462.4 L194.4 462.4 L196.0 462.4 L197.6 462.4 L199.3 462.4 L200.9 462.4 L202.6 462.4 L204.2 462.4 L205.9 462.4 L207.5 462.4 L209.1 462.4 L210.8 462.4 L212.4 462.4 L214.1 462.4 L215.7 462.4 L217.4 462.4 L219.0 462.4 L220.6 462.4 L222.3 462.4 L223.9 462.4 L225.6 462.4 L227.2 462.4 L228.8 462.4 L230.5 462.4 L232.1 462.4 L233.8 462.4 L235.4 462.4 L237.1 462.4 L238.7 462.4 L240.3 462.4 L242.0 462.4 L243.6 462.4 L245.3 462.4 L246.9 462.4 L248.6 462.4 L250.2 462.4 L251.8 462.4 L253.5 462.4 L255.1 462.4 L256.8 462.4 L258.4 462.4 L260.0 462.4 L261.7 462.4 L263.3 462.4 L265.0 462.4 L266.6 462.4 L268.3 462.4 L269.9 462.4 L271.5 462.4 L273.2 462.4 L274.8 462.4 L276.5 462.4 L278.1 462.4 L279.7 462.4 L281.4 462.4 L283.0 462.4 L284.7 462.4 L286.3 462.4 L288.0 462.4 L289.6 462.4 L291.2 462.4 L292.9 462.4 L294.5 462.4 L296.2 462.4 L297.8 462.4 L299.5 462.4 L301.1 462.4 L302.7 462.4 L304.4 462.4 L306.0 462.4 L307.7 462.4 L309.3 462.4 L310.9 462.4 L312.6 462.4 L314.2 462.4 L315.9 462.4 L317.5 462.4 L319.2 462.4 L320.8 462.4 L322.4 462.4 L324.1 462.4 L325.7 462.4 L327.4 462.4 L329.0 462.4 L330.7 462.4 L332.3 462.4 L333.9 462.4 L335.6 462.4 L337.2 462.4 L338.9 462.4 L340.5 462.4 L342.1 462.4 L343.8 462.4 L345.4 462.4 L347.1 462.4 L348.7 462.4 L350.4 462.4 L352.0 462.4 L353.6 462.4 L355.3 462.4 L356.9 462.4 L358.6 462.4 L360.2 462.4 L361.8 462.4 L363.5 462.4 L365.1 462.4 L366.8 462.4 L368.4 462.4 L370.1 462.4 L371.7 462.4 L373.3 462.4 L375.0 462.4 L376.6 462.4 L378.3 462.4 L379.9 462.4 L381.6 462.4 L383.2 462.4 L384.8 462.4 L386.5 462.4 L388.1 462.4 L389.8 462.4 L391.4 462.4 L393.0 462.4 L394.7 462.4 L396.3 462.4 L398.0 462.4 L399.6 462.4 L401.3 462.4 L402.9 462.4 L404.5 462.4 L406.2 462.4 L407.8 462.4 L409.5 462.4 L411.1 462.4 L412.8 462.4 L414.4 462.4 L416.0 462.4 L417.7 462.4 L419.3 462.4 L421.0 462.4 L422.6 462.4 L424.2 462.4 L425.9 462.4 L427.5 462.4 L429.2 462.4 L430.8 462.4 L432.5 462.4 L434.1 462.4 L435.7 462.4 L437.4 462.4 L439.0 462.4 L440.7 462.4 L442.3 462.4 L443.9 462.4 L445.6 462.4 L447.2 462.4 L448.9 462.4 L450.5 462.4 L452.2 462.4 L453.8 462.4 L455.4 462.4 L457.1 462.4 L458.7 462.4 L460.4 462.4 L462.0 462.4 L463.7 462.4 L465.3 462.4 L466.9 462.4 L468.6 462.4 L470.2 462.4 L471.9 462.4 L473.5 462.4 L475.1 462.4 L476.8 462.4 L478.4 462.4 L480.1 462.4 L481.7 462.4 L483.4 462.4 L485.0 462.4 L486.6 462.4 L488.3 462.4 L489.9 462.4 L491.6 462.4 L493.2 462.4 L494.9 462.4 L496.5 462.4 L498.1 462.4 L499.8 462.4 L501.4 462.4 L503.1 462.4 L504.7 462.4 L506.3 462.4 L508.0 462.4 L509.6 462.4 L511.3 462.4 L512.9 462.4 L514.6 462.4 L516.2 462.4 L517.8 462.4 L519.5 462.4 L521.1 462.4 L522.8 462.4 L524.4 462.4 L526.0 462.4 L527.7 462.4 L529.3 462.4 L531.0 462.4 L532.6 462.4 L534.3 462.4 L535.9 462.4 L537.5 462.4 L539.2 462.4 L540.8 462.4 L542.5 462.4 L544.1 462.4 L545.8 462.4 L547.4 462.4 L549.0 462.4 L550.7 462.4 L552.3 462.4 L554.0 462.4 L555.6 462.4 L557.2 462.4 L558.9 462.4 L560.5 462.4 L562.2 462.4 L563.8 462.4 L565.5 462.4 L567.1 462.4 L568.7 462.4 L570.4 462.4 L572.0 462.4 L573.7 462.4 L575.3 462.4 L577.0 462.4 L578.6 462.4 L580.2 462.4 L581.9 462.4 L583.5 462.4 L585.2 462.4 L586.8 462.4 L588.4 462.4 L590.1 462.4 L591.7 462.4 L593.4 462.4 L595.0 462.4 L596.7 462.4 L598.3 462.4 L599.9 462.4 L601.6 462.4 L603.2 462.4 L604.9 462.4 L606.5 462.4 L608.1 462.4 L609.8 462.4 L611.4 462.4 L613.1 462.4 L614.7 462.4 L616.4 462.4 L618.0 462.4 L619.6 462.4 L621.3 462.4 L622.9 462.4 L624.6 462.4 L626.2 462.4 L627.9 462.4 L629.5 462.4 L631.1 462.4 L632.8 462.4 L634.4 462.4 L636.1 462.4 L637.7 462.4 L639.3 462.4 L641.0 462.4 L642.6 462.4 L644.3 462.4 L645.9 462.4 L647.6 462.4 L649.2 462.4 L650.8 462.4 L652.5 462.4 L654.1 462.4 L655.8 462.4 L657.4 462.4 L659.1 462.4 L660.7 462.4 L662.3 462.4 L664.0 462.4 L665.6 462.4 L667.3 462.4 L668.9 462.4 L670.5 462.4 L672.2 462.4 L673.8 462.4 L675.5 462.4 L677.1 462.4 L678.8 462.4 L680.4 462.4 L682.0 462.4 L683.7 462.4 L685.3 462.4 L687.0 462.4 L688.6 462.4 L690.2 462.4 L691.9 462.4 L693.5 462.4 L695.2 462.4 L696.8 462.4 L698.5 462.4 L700.1 462.4 L701.7 462.4 L703.4 462.4 L705.0 462.4 L706.7 462.4 L708.3 462.4 L710.0 462.4 L711.6 462.4 L713.2 462.4 L714.9 462.4 L716.5 462.4 L718.2 462.4 L719.8 462.4 L721.4 462.4 L723.1 462.4 L724.7 462.4 L726.4 462.4 L728.0 462.4 L729.7 462.4 L731.3 462.4 L732.9 462.4 L734.6 462.4 L736.2 462.4 L737.9 462.4 L739.5 462.4 L741.1 462.4 L742.8 462.4 L744.4 462.4 L746.1 462.4 L747.7 462.4 L749.4 462.4 L751.0 462.4 L752.6 462.4 L754.3 462.4 L755.9 462.4 L757.6 462.4 L759.2 462.4 L760.9 462.4 L762.5 462.4 L764.1 462.4 L765.8 462.4 L767.4 462.4 L769.1 462.4 L770.7 462.4 L772.3 462.4 L774.0 462.4 L775.6 462.4 L777.3 462.4 L778.9 462.4 L780.6 462.4 L782.2 462.4 L783.8 462.4 L785.5 462.4 L787.1 462.4 L788.8 462.4 L790.4 462.4 L792.1 462.4 L793.7 462.4 L795.3 462.4 L797.0 462.4 L798.6 462.4 L800.3 462.4 L801.9 462.4 L803.5 462.4 L805.2 462.4 L806.8 462.4 L808.5 462.4 L810.1 462.4 L811.8 462.4 L813.4 462.4 L815.0 462.4" fill="none" stroke="#4fa9ba" stroke-width="2.9" stroke-dasharray="7.6 7.2" style="mix-blend-mode:multiply"/>
<line x1="453.8" y1="19.8" x2="453.8" y2="485.8" stroke="#161616" stroke-width="2"/>
<rect x="77.2" y="19.8" width="751.1" height="466.0" fill="none" stroke="#000" stroke-width="1.7"/>
<line x1="125.4" y1="485.8" x2="125.4" y2="478.8" stroke="#000" stroke-width="1.3"/>
<text x="121.4" y="516" text-anchor="middle" font-size="27.6" font-family="Liberation Sans, Arial, sans-serif" stroke="#000" stroke-width="0.45" paint-order="stroke">−1</text>
<line x1="289.6" y1="485.8" x2="289.6" y2="478.8" stroke="#000" stroke-width="1.3"/>
<text x="285.6" y="516" text-anchor="middle" font-size="27.6" font-family="Liberation Sans, Arial, sans-serif" stroke="#000" stroke-width="0.45" paint-order="stroke">−0.5</text>
<line x1="453.8" y1="485.8" x2="453.8" y2="478.8" stroke="#000" stroke-width="1.3"/>
<text x="453.8" y="516" text-anchor="middle" font-size="27.6" font-family="Liberation Sans, Arial, sans-serif" stroke="#000" stroke-width="0.45" paint-order="stroke">0</text>
<line x1="618.0" y1="485.8" x2="618.0" y2="478.8" stroke="#000" stroke-width="1.3"/>
<text x="618.0" y="516" text-anchor="middle" font-size="27.6" font-family="Liberation Sans, Arial, sans-serif" stroke="#000" stroke-width="0.45" paint-order="stroke">0.5</text>
<line x1="782.2" y1="485.8" x2="782.2" y2="478.8" stroke="#000" stroke-width="1.3"/>
<text x="782.2" y="516" text-anchor="middle" font-size="27.6" font-family="Liberation Sans, Arial, sans-serif" stroke="#000" stroke-width="0.45" paint-order="stroke">1</text>
<line x1="77.2" y1="462.8" x2="84.2" y2="462.8" stroke="#000" stroke-width="1.3"/>
<text x="68" y="471.4" text-anchor="end" font-size="27.6" font-family="Liberation Sans, Arial, sans-serif" stroke="#000" stroke-width="0.45" paint-order="stroke">0</text>
<line x1="77.2" y1="311.0" x2="84.2" y2="311.0" stroke="#000" stroke-width="1.3"/>
<text x="68" y="319.6" text-anchor="end" font-size="27.6" font-family="Liberation Sans, Arial, sans-serif" stroke="#000" stroke-width="0.45" paint-order="stroke">2</text>
<line x1="77.2" y1="159.2" x2="84.2" y2="159.2" stroke="#000" stroke-width="1.3"/>
<text x="68" y="167.8" text-anchor="end" font-size="27.6" font-family="Liberation Sans, Arial, sans-serif" stroke="#000" stroke-width="0.45" paint-order="stroke">4</text>
<line x1="828.3" y1="462.4" x2="821.3" y2="462.4" stroke="#000" stroke-width="1.3"/>
<text x="833.5" y="471.0" font-size="27.6" font-family="Liberation Sans, Arial, sans-serif" stroke="#000" stroke-width="0.45" paint-order="stroke">0</text>
<line x1="828.3" y1="321.9" x2="821.3" y2="321.9" stroke="#000" stroke-width="1.3"/>
<text x="833.5" y="330.5" font-size="27.6" font-family="Liberation Sans, Arial, sans-serif" stroke="#000" stroke-width="0.45" paint-order="stroke">2</text>
<line x1="828.3" y1="181.3" x2="821.3" y2="181.3" stroke="#000" stroke-width="1.3"/>
<text x="833.5" y="189.9" font-size="27.6" font-family="Liberation Sans, Arial, sans-serif" stroke="#000" stroke-width="0.45" paint-order="stroke">4</text>
<line x1="828.3" y1="40.8" x2="821.3" y2="40.8" stroke="#000" stroke-width="1.3"/>
<text x="833.5" y="49.4" font-size="27.6" font-family="Liberation Sans, Arial, sans-serif" stroke="#000" stroke-width="0.45" paint-order="stroke">6</text>
<text x="452.5" y="559" text-anchor="middle" font-size="27.3" textLength="217" lengthAdjust="spacingAndGlyphs" font-family="Liberation Sans, Arial, sans-serif" stroke="#000" stroke-width="0.45" paint-order="stroke">x coordinate, [mm]</text>
<text transform="translate(36.8 251.6) rotate(-90)" text-anchor="middle" font-size="27.3" textLength="454" lengthAdjust="spacingAndGlyphs" font-family="Liberation Sans, Arial, sans-serif" stroke="#000" stroke-width="0.45" paint-order="stroke">Shaped Intensity [solid], [W <tspan font-style="italic">m</tspan><tspan dy="-15.5" font-size="19"> −2</tspan><tspan dy="15.5">,x10</tspan><tspan dy="-15.5" font-size="19">7</tspan><tspan dy="15.5">]</tspan></text>
<text transform="translate(889.6 248) rotate(-90)" text-anchor="middle" font-size="27.3" textLength="462.7" lengthAdjust="spacingAndGlyphs" font-family="Liberation Sans, Arial, sans-serif" stroke="#000" stroke-width="0.45" paint-order="stroke">Pump Intensity [dashed], [W <tspan font-style="italic">m</tspan><tspan dy="-15.5" font-size="19"> −2</tspan><tspan dy="15.5">,x10</tspan><tspan dy="-15.5" font-size="19">7</tspan><tspan dy="15.5">]</tspan></text></g>
<g id="plotB"><path d="M1035.7 450.8 L1037.3 450.8 L1039.0 450.8 L1040.6 450.8 L1042.3 450.8 L1043.9 450.8 L1045.5 450.8 L1047.2 450.8 L1048.8 450.8 L1050.5 450.8 L1052.1 450.8 L1053.7 450.8 L1055.4 450.8 L1057.0 450.8 L1058.7 450.8 L1060.3 450.8 L1061.9 450.8 L1063.6 450.8 L1065.2 450.8 L1066.9 450.8 L1068.5 450.8 L1070.1 450.8 L1071.8 450.8 L1073.4 450.8 L1075.1 450.8 L1076.7 450.8 L1078.3 450.8 L1080.0 450.8 L1081.6 450.7 L1083.3 450.7 L1084.9 450.7 L1086.5 450.7 L1088.2 450.7 L1089.8 450.7 L1091.5 450.7 L1093.1 450.7 L1094.7 450.7 L1096.4 450.7 L1098.0 450.7 L1099.6 450.6 L1101.3 450.6 L1102.9 450.6 L1104.6 450.6 L1106.2 450.6 L1107.8 450.6 L1109.5 450.5 L1111.1 450.5 L1112.8 450.5 L1114.4 450.5 L1116.0 450.4 L1117.7 450.4 L1119.3 450.4 L1121.0 450.3 L1122.6 450.3 L1124.2 450.3 L1125.9 450.2 L1127.5 450.2 L1129.2 450.1 L1130.8 450.0 L1132.4 450.0 L1134.1 449.9 L1135.7 449.8 L1137.4 449.8 L1139.0 449.7 L1140.6 449.6 L1142.3 449.5 L1143.9 449.4 L1145.6 449.3 L1147.2 449.2 L1148.8 449.1 L1150.5 448.9 L1152.1 448.8 L1153.8 448.6 L1155.4 448.5 L1157.0 448.3 L1158.7 448.1 L1160.3 447.9 L1161.9 447.7 L1163.6 447.5 L1165.2 447.3 L1166.9 447.0 L1168.5 446.8 L1170.1 446.5 L1171.8 446.2 L1173.4 445.9 L1175.1 445.5 L1176.7 445.2 L1178.3 444.8 L1180.0 444.4 L1181.6 444.0 L1183.3 443.6 L1184.9 443.1 L1186.5 442.6 L1188.2 442.1 L1189.8 441.6 L1191.5 441.0 L1193.1 440.4 L1194.7 439.8 L1196.4 439.2 L1198.0 438.5 L1199.7 437.8 L1201.3 437.0 L1202.9 436.2 L1204.6 435.4 L1206.2 434.5 L1207.9 433.6 L1209.5 432.7 L1211.1 431.7 L1212.8 430.6 L1214.4 429.6 L1216.1 428.5 L1217.7 427.3 L1219.3 426.1 L1221.0 424.8 L1222.6 423.5 L1224.2 422.1 L1225.9 420.7 L1227.5 419.2 L1229.2 417.7 L1230.8 416.1 L1232.4 414.5 L1234.1 412.8 L1235.7 411.0 L1237.4 409.2 L1239.0 407.3 L1240.6 405.4 L1242.3 403.4 L1243.9 401.3 L1245.6 399.1 L1247.2 397.0 L1248.8 394.7 L1250.5 392.4 L1252.1 390.0 L1253.8 387.5 L1255.4 385.0 L1257.0 382.4 L1258.7 379.8 L1260.3 377.0 L1262.0 374.2 L1263.6 371.4 L1265.2 368.5 L1266.9 365.5 L1268.5 362.5 L1270.2 359.3 L1271.8 356.2 L1273.4 352.9 L1275.1 349.7 L1276.7 346.3 L1278.4 342.9 L1280.0 339.4 L1281.6 335.9 L1283.3 332.3 L1284.9 328.7 L1286.5 325.0 L1288.2 321.3 L1289.8 317.6 L1291.5 313.8 L1293.1 309.9 L1294.7 306.0 L1296.4 302.1 L1298.0 298.2 L1299.7 294.2 L1301.3 290.2 L1302.9 286.1 L1304.6 282.1 L1306.2 278.0 L1307.9 273.9 L1309.5 269.8 L1311.1 265.7 L1312.8 261.6 L1314.4 257.5 L1316.1 253.4 L1317.7 249.3 L1319.3 245.2 L1321.0 241.1 L1322.6 237.1 L1324.3 233.0 L1325.9 229.0 L1327.5 225.1 L1329.2 221.1 L1330.8 217.2 L1332.5 213.3 L1334.1 209.5 L1335.7 205.8 L1337.4 202.0 L1339.0 198.4 L1340.7 194.8 L1342.3 191.2 L1343.9 187.8 L1345.6 184.4 L1347.2 181.0 L1348.8 177.8 L1350.5 174.6 L1352.1 171.5 L1353.8 168.5 L1355.4 165.6 L1357.0 162.8 L1358.7 160.1 L1360.3 157.5 L1362.0 154.9 L1363.6 152.5 L1365.2 150.2 L1366.9 148.0 L1368.5 145.9 L1370.2 143.9 L1371.8 142.0 L1373.4 140.2 L1375.1 138.6 L1376.7 137.0 L1378.4 135.6 L1380.0 134.3 L1381.6 133.0 L1383.3 132.0 L1384.9 131.0 L1386.6 130.1 L1388.2 129.4 L1389.8 128.7 L1391.5 128.2 L1393.1 127.7 L1394.8 127.4 L1396.4 127.2 L1398.0 127.1 L1399.7 127.0 L1401.3 127.0 L1403.0 127.1 L1404.6 127.3 L1406.2 127.6 L1407.9 128.0 L1409.5 128.5 L1411.2 129.1 L1412.8 129.8 L1414.4 130.6 L1416.1 131.6 L1417.7 132.6 L1419.3 133.8 L1421.0 135.0 L1422.6 136.4 L1424.3 137.9 L1425.9 139.5 L1427.5 141.3 L1429.2 143.1 L1430.8 145.1 L1432.5 147.1 L1434.1 149.3 L1435.7 151.6 L1437.4 154.0 L1439.0 156.4 L1440.7 159.0 L1442.3 161.7 L1443.9 164.5 L1445.6 167.4 L1447.2 170.3 L1448.9 173.4 L1450.5 176.5 L1452.1 179.7 L1453.8 183.0 L1455.4 186.4 L1457.1 189.8 L1458.7 193.4 L1460.3 196.9 L1462.0 200.6 L1463.6 204.3 L1465.3 208.0 L1466.9 211.8 L1468.5 215.7 L1470.2 219.6 L1471.8 223.5 L1473.5 227.5 L1475.1 231.5 L1476.7 235.5 L1478.4 239.5 L1480.0 243.6 L1481.6 247.7 L1483.3 251.8 L1484.9 255.9 L1486.6 260.0 L1488.2 264.1 L1489.8 268.2 L1491.5 272.3 L1493.1 276.4 L1494.8 280.5 L1496.4 284.5 L1498.0 288.6 L1499.7 292.6 L1501.3 296.6 L1503.0 300.5 L1504.6 304.5 L1506.2 308.4 L1507.9 312.2 L1509.5 316.1 L1511.2 319.8 L1512.8 323.6 L1514.4 327.3 L1516.1 330.9 L1517.7 334.5 L1519.4 338.0 L1521.0 341.5 L1522.6 345.0 L1524.3 348.3 L1525.9 351.6 L1527.6 354.9 L1529.2 358.1 L1530.8 361.2 L1532.5 364.3 L1534.1 367.3 L1535.8 370.2 L1537.4 373.1 L1539.0 375.9 L1540.7 378.7 L1542.3 381.4 L1543.9 384.0 L1545.6 386.5 L1547.2 389.0 L1548.9 391.4 L1550.5 393.8 L1552.1 396.1 L1553.8 398.3 L1555.4 400.4 L1557.1 402.5 L1558.7 404.6 L1560.3 406.5 L1562.0 408.4 L1563.6 410.3 L1565.3 412.1 L1566.9 413.8 L1568.5 415.5 L1570.2 417.1 L1571.8 418.6 L1573.5 420.1 L1575.1 421.6 L1576.7 422.9 L1578.4 424.3 L1580.0 425.6 L1581.7 426.8 L1583.3 428.0 L1584.9 429.1 L1586.6 430.2 L1588.2 431.3 L1589.9 432.3 L1591.5 433.2 L1593.1 434.2 L1594.8 435.0 L1596.4 435.9 L1598.1 436.7 L1599.7 437.5 L1601.3 438.2 L1603.0 438.9 L1604.6 439.6 L1606.2 440.2 L1607.9 440.8 L1609.5 441.4 L1611.2 441.9 L1612.8 442.4 L1614.4 442.9 L1616.1 443.4 L1617.7 443.8 L1619.4 444.3 L1621.0 444.7 L1622.6 445.0 L1624.3 445.4 L1625.9 445.7 L1627.6 446.1 L1629.2 446.4 L1630.8 446.6 L1632.5 446.9 L1634.1 447.2 L1635.8 447.4 L1637.4 447.6 L1639.0 447.8 L1640.7 448.0 L1642.3 448.2 L1644.0 448.4 L1645.6 448.6 L1647.2 448.7 L1648.9 448.9 L1650.5 449.0 L1652.2 449.1 L1653.8 449.2 L1655.4 449.4 L1657.1 449.5 L1658.7 449.6 L1660.4 449.7 L1662.0 449.7 L1663.6 449.8 L1665.3 449.9 L1666.9 450.0 L1668.5 450.0 L1670.2 450.1 L1671.8 450.1 L1673.5 450.2 L1675.1 450.2 L1676.7 450.3 L1678.4 450.3 L1680.0 450.4 L1681.7 450.4 L1683.3 450.4 L1684.9 450.5 L1686.6 450.5 L1688.2 450.5 L1689.9 450.5 L1691.5 450.6 L1693.1 450.6 L1694.8 450.6 L1696.4 450.6 L1698.1 450.6 L1699.7 450.6 L1701.3 450.7 L1703.0 450.7 L1704.6 450.7 L1706.3 450.7 L1707.9 450.7 L1709.5 450.7 L1711.2 450.7 L1712.8 450.7 L1714.5 450.7 L1716.1 450.7 L1717.7 450.7 L1719.4 450.7 L1721.0 450.8 L1722.7 450.8 L1724.3 450.8 L1725.9 450.8 L1727.6 450.8 L1729.2 450.8 L1730.8 450.8 L1732.5 450.8 L1734.1 450.8 L1735.8 450.8 L1737.4 450.8 L1739.0 450.8 L1740.7 450.8 L1742.3 450.8 L1744.0 450.8 L1745.6 450.8 L1747.2 450.8 L1748.9 450.8 L1750.5 450.8 L1752.2 450.8 L1753.8 450.8 L1755.4 450.8 L1757.1 450.8 L1758.7 450.8 L1760.4 450.8" fill="none" stroke="#45bcc4" stroke-width="3.2"/>
<path d="M1035.7 450.8 L1037.3 450.8 L1039.0 450.8 L1040.6 450.8 L1042.3 450.8 L1043.9 450.8 L1045.5 450.8 L1047.2 450.8 L1048.8 450.8 L1050.5 450.8 L1052.1 450.8 L1053.7 450.8 L1055.4 450.8 L1057.0 450.8 L1058.7 450.8 L1060.3 450.8 L1061.9 450.8 L1063.6 450.8 L1065.2 450.8 L1066.9 450.8 L1068.5 450.8 L1070.1 450.8 L1071.8 450.8 L1073.4 450.8 L1075.1 450.8 L1076.7 450.8 L1078.3 450.8 L1080.0 450.8 L1081.6 450.7 L1083.3 450.7 L1084.9 450.7 L1086.5 450.7 L1088.2 450.7 L1089.8 450.7 L1091.5 450.7 L1093.1 450.7 L1094.7 450.7 L1096.4 450.7 L1098.0 450.7 L1099.6 450.6 L1101.3 450.6 L1102.9 450.6 L1104.6 450.6 L1106.2 450.6 L1107.8 450.6 L1109.5 450.5 L1111.1 450.5 L1112.8 450.5 L1114.4 450.5 L1116.0 450.4 L1117.7 450.4 L1119.3 450.4 L1121.0 450.3 L1122.6 450.3 L1124.2 450.3 L1125.9 450.2 L1127.5 450.2 L1129.2 450.1 L1130.8 450.0 L1132.4 450.0 L1134.1 449.9 L1135.7 449.8 L1137.4 449.8 L1139.0 449.7 L1140.6 449.6 L1142.3 449.5 L1143.9 449.4 L1145.6 449.3 L1147.2 449.2 L1148.8 449.1 L1150.5 448.9 L1152.1 448.8 L1153.8 448.6 L1155.4 448.5 L1157.0 448.3 L1158.7 448.1 L1160.3 447.9 L1161.9 447.7 L1163.6 447.5 L1165.2 447.3 L1166.9 447.0 L1168.5 446.8 L1170.1 446.5 L1171.8 446.2 L1173.4 445.9 L1175.1 445.5 L1176.7 445.2 L1178.3 444.8 L1180.0 444.4 L1181.6 444.0 L1183.3 443.6 L1184.9 443.1 L1186.5 442.6 L1188.2 442.1 L1189.8 441.6 L1191.5 441.0 L1193.1 440.4 L1194.7 439.8 L1196.4 439.2 L1198.0 438.5 L1199.7 437.8 L1201.3 437.0 L1202.9 436.2 L1204.6 435.4 L1206.2 434.5 L1207.9 433.6 L1209.5 432.7 L1211.1 431.7 L1212.8 430.6 L1214.4 429.6 L1216.1 428.5 L1217.7 427.3 L1219.3 426.1 L1221.0 424.8 L1222.6 423.5 L1224.2 422.1 L1225.9 420.7 L1227.5 419.2 L1229.2 417.7 L1230.8 416.1 L1232.4 414.5 L1234.1 412.8 L1235.7 411.0 L1237.4 409.2 L1239.0 407.3 L1240.6 405.4 L1242.3 403.4 L1243.9 401.3 L1245.6 399.1 L1247.2 397.0 L1248.8 394.7 L1250.5 392.4 L1252.1 390.0 L1253.8 387.5 L1255.4 385.0 L1257.0 382.4 L1258.7 379.8 L1260.3 377.0 L1262.0 374.2 L1263.6 371.4 L1265.2 368.5 L1266.9 365.5 L1268.5 362.4 L1270.2 359.3 L1271.8 356.2 L1273.4 352.9 L1275.1 349.6 L1276.7 346.3 L1278.4 342.9 L1280.0 339.4 L1281.6 335.9 L1283.3 332.3 L1284.9 328.7 L1286.5 325.0 L1288.2 321.3 L1289.8 317.5 L1291.5 313.7 L1293.1 309.9 L1294.7 306.0 L1296.4 302.1 L1298.0 298.1 L1299.7 294.1 L1301.3 290.1 L1302.9 286.1 L1304.6 282.0 L1306.2 277.9 L1307.9 273.8 L1309.5 269.7 L1311.1 265.6 L1312.8 261.4 L1314.4 257.3 L1316.1 253.2 L1317.7 249.1 L1319.3 244.9 L1321.0 240.8 L1322.6 236.7 L1324.3 232.6 L1325.9 228.6 L1327.5 224.5 L1329.2 220.5 L1330.8 216.5 L1332.5 212.6 L1334.1 208.7 L1335.7 204.8 L1337.4 201.0 L1339.0 197.2 L1340.7 193.4 L1342.3 189.7 L1343.9 186.1 L1345.6 182.5 L1347.2 179.0 L1348.8 175.5 L1350.5 172.1 L1352.1 168.7 L1353.8 165.4 L1355.4 162.2 L1357.0 159.0 L1358.7 155.9 L1360.3 152.9 L1362.0 149.9 L1363.6 147.0 L1365.2 144.1 L1366.9 141.4 L1368.5 138.6 L1370.2 136.0 L1371.8 133.4 L1373.4 130.9 L1375.1 128.4 L1376.7 126.0 L1378.4 123.6 L1380.0 121.3 L1381.6 119.0 L1383.3 116.8 L1384.9 114.6 L1386.6 112.5 L1388.2 110.4 L1389.8 108.3 L1391.5 106.3 L1393.1 104.2 L1394.8 102.2 L1396.4 100.2 L1398.0 98.2 L1399.7 96.2 L1401.3 94.2 L1403.0 92.1 L1404.6 90.0 L1406.2 88.0 L1407.9 85.9 L1409.5 83.8 L1411.2 81.7 L1412.8 79.6 L1414.4 77.5 L1416.1 75.5 L1417.7 73.4 L1419.3 71.3 L1421.0 69.3 L1422.6 67.3 L1424.3 65.3 L1425.9 63.3 L1427.5 61.3 L1429.2 59.3 L1430.8 57.4 L1432.5 55.5 L1434.1 53.7 L1435.7 51.9 L1437.4 50.1 L1439.0 48.4 L1440.7 46.7 L1442.3 45.1 L1443.9 43.6 L1445.6 42.1 L1447.2 40.7 L1448.9 39.3 L1450.5 38.1 L1452.1 36.9 L1453.8 35.9 L1455.4 34.9 L1457.1 34.1 L1458.7 33.4 L1460.3 32.8 L1462.0 32.3 L1463.6 32.0 L1465.3 31.8 L1466.9 31.8 L1468.5 31.9 L1470.2 32.1 L1471.8 32.6 L1473.5 33.2 L1475.1 34.0 L1476.7 34.9 L1478.4 36.1 L1480.0 37.4 L1481.6 39.0 L1483.3 40.7 L1484.9 42.6 L1486.6 44.7 L1488.2 47.0 L1489.8 49.6 L1491.5 52.3 L1493.1 55.2 L1494.8 58.3 L1496.4 61.6 L1498.0 65.2 L1499.7 68.9 L1501.3 72.8 L1503.0 76.9 L1504.6 81.2 L1506.2 85.6 L1507.9 90.2 L1509.5 95.0 L1511.2 100.0 L1512.8 105.1 L1514.4 110.4 L1516.1 115.8 L1517.7 121.4 L1519.4 127.0 L1521.0 132.8 L1522.6 138.7 L1524.3 144.7 L1525.9 150.8 L1527.6 157.0 L1529.2 163.3 L1530.8 169.6 L1532.5 176.0 L1534.1 182.4 L1535.8 188.9 L1537.4 195.4 L1539.0 201.9 L1540.7 208.4 L1542.3 214.9 L1543.9 221.4 L1545.6 227.9 L1547.2 234.3 L1548.9 240.8 L1550.5 247.1 L1552.1 253.5 L1553.8 259.7 L1555.4 265.9 L1557.1 272.1 L1558.7 278.1 L1560.3 284.1 L1562.0 290.0 L1563.6 295.8 L1565.3 301.5 L1566.9 307.0 L1568.5 312.5 L1570.2 317.9 L1571.8 323.1 L1573.5 328.3 L1575.1 333.3 L1576.7 338.1 L1578.4 342.9 L1580.0 347.5 L1581.7 352.0 L1583.3 356.4 L1584.9 360.6 L1586.6 364.8 L1588.2 368.7 L1589.9 372.6 L1591.5 376.3 L1593.1 379.9 L1594.8 383.4 L1596.4 386.7 L1598.1 389.9 L1599.7 393.0 L1601.3 396.0 L1603.0 398.9 L1604.6 401.6 L1606.2 404.3 L1607.9 406.8 L1609.5 409.2 L1611.2 411.5 L1612.8 413.7 L1614.4 415.8 L1616.1 417.8 L1617.7 419.7 L1619.4 421.5 L1621.0 423.3 L1622.6 424.9 L1624.3 426.5 L1625.9 428.0 L1627.6 429.4 L1629.2 430.7 L1630.8 432.0 L1632.5 433.2 L1634.1 434.3 L1635.8 435.4 L1637.4 436.4 L1639.0 437.3 L1640.7 438.2 L1642.3 439.1 L1644.0 439.8 L1645.6 440.6 L1647.2 441.3 L1648.9 442.0 L1650.5 442.6 L1652.2 443.2 L1653.8 443.7 L1655.4 444.2 L1657.1 444.7 L1658.7 445.1 L1660.4 445.5 L1662.0 445.9 L1663.6 446.3 L1665.3 446.6 L1666.9 446.9 L1668.5 447.2 L1670.2 447.5 L1671.8 447.8 L1673.5 448.0 L1675.1 448.2 L1676.7 448.4 L1678.4 448.6 L1680.0 448.8 L1681.7 448.9 L1683.3 449.1 L1684.9 449.2 L1686.6 449.4 L1688.2 449.5 L1689.9 449.6 L1691.5 449.7 L1693.1 449.8 L1694.8 449.9 L1696.4 449.9 L1698.1 450.0 L1699.7 450.1 L1701.3 450.1 L1703.0 450.2 L1704.6 450.3 L1706.3 450.3 L1707.9 450.3 L1709.5 450.4 L1711.2 450.4 L1712.8 450.5 L1714.5 450.5 L1716.1 450.5 L1717.7 450.5 L1719.4 450.6 L1721.0 450.6 L1722.7 450.6 L1724.3 450.6 L1725.9 450.6 L1727.6 450.7 L1729.2 450.7 L1730.8 450.7 L1732.5 450.7 L1734.1 450.7 L1735.8 450.7 L1737.4 450.7 L1739.0 450.7 L1740.7 450.7 L1742.3 450.7 L1744.0 450.8 L1745.6 450.8 L1747.2 450.8 L1748.9 450.8 L1750.5 450.8 L1752.2 450.8 L1753.8 450.8 L1755.4 450.8 L1757.1 450.8 L1758.7 450.8 L1760.4 450.8" fill="none" stroke="#fa1a0e" stroke-width="3.2"/>
<path d="M1035.7 450.8 L1037.3 450.8 L1039.0 450.8 L1040.6 450.8 L1042.3 450.8 L1043.9 450.8 L1045.5 450.8 L1047.2 450.8 L1048.8 450.8 L1050.5 450.8 L1052.1 450.8 L1053.7 450.8 L1055.4 450.8 L1057.0 450.8 L1058.7 450.8 L1060.3 450.8 L1061.9 450.8 L1063.6 450.8 L1065.2 450.8 L1066.9 450.8 L1068.5 450.8 L1070.1 450.8 L1071.8 450.8 L1073.4 450.8 L1075.1 450.8 L1076.7 450.8 L1078.3 450.8 L1080.0 450.8 L1081.6 450.7 L1083.3 450.7 L1084.9 450.7 L1086.5 450.7 L1088.2 450.7 L1089.8 450.7 L1091.5 450.7 L1093.1 450.7 L1094.7 450.7 L1096.4 450.7 L1098.0 450.7 L1099.6 450.6 L1101.3 450.6 L1102.9 450.6 L1104.6 450.6 L1106.2 450.6 L1107.8 450.6 L1109.5 450.5 L1111.1 450.5 L1112.8 450.5 L1114.4 450.5 L1116.0 450.4 L1117.7 450.4 L1119.3 450.4 L1121.0 450.3 L1122.6 450.3 L1124.2 450.3 L1125.9 450.2 L1127.5 450.2 L1129.2 450.1 L1130.8 450.0 L1132.4 450.0 L1134.1 449.9 L1135.7 449.8 L1137.4 449.8 L1139.0 449.7 L1140.6 449.6 L1142.3 449.5 L1143.9 449.4 L1145.6 449.3 L1147.2 449.2 L1148.8 449.1 L1150.5 448.9 L1152.1 448.8 L1153.8 448.6 L1155.4 448.5 L1157.0 448.3 L1158.7 448.1 L1160.3 447.9 L1161.9 447.7 L1163.6 447.5 L1165.2 447.3 L1166.9 447.0 L1168.5 446.8 L1170.1 446.5 L1171.8 446.2 L1173.4 445.9 L1175.1 445.5 L1176.7 445.2 L1178.3 444.8 L1180.0 444.4 L1181.6 444.0 L1183.3 443.6 L1184.9 443.1 L1186.5 442.6 L1188.2 442.1 L1189.8 441.6 L1191.5 441.0 L1193.1 440.4 L1194.7 439.8 L1196.4 439.2 L1198.0 438.5 L1199.7 437.8 L1201.3 437.0 L1202.9 436.2 L1204.6 435.4 L1206.2 434.5 L1207.9 433.6 L1209.5 432.7 L1211.1 431.7 L1212.8 430.6 L1214.4 429.6 L1216.1 428.5 L1217.7 427.3 L1219.3 426.1 L1221.0 424.8 L1222.6 423.5 L1224.2 422.1 L1225.9 420.7 L1227.5 419.2 L1229.2 417.7 L1230.8 416.1 L1232.4 414.5 L1234.1 412.8 L1235.7 411.0 L1237.4 409.2 L1239.0 407.3 L1240.6 405.4 L1242.3 403.4 L1243.9 401.3 L1245.6 399.1 L1247.2 397.0 L1248.8 394.7 L1250.5 392.4 L1252.1 390.0 L1253.8 387.5 L1255.4 385.0 L1257.0 382.4 L1258.7 379.8 L1260.3 377.0 L1262.0 374.2 L1263.6 371.4 L1265.2 368.5 L1266.9 365.5 L1268.5 362.4 L1270.2 359.3 L1271.8 356.2 L1273.4 352.9 L1275.1 349.6 L1276.7 346.3 L1278.4 342.9 L1280.0 339.4 L1281.6 335.9 L1283.3 332.3 L1284.9 328.7 L1286.5 325.0 L1288.2 321.3 L1289.8 317.6 L1291.5 313.7 L1293.1 309.9 L1294.7 306.0 L1296.4 302.1 L1298.0 298.1 L1299.7 294.1 L1301.3 290.1 L1302.9 286.1 L1304.6 282.0 L1306.2 278.0 L1307.9 273.9 L1309.5 269.8 L1311.1 265.6 L1312.8 261.5 L1314.4 257.4 L1316.1 253.3 L1317.7 249.2 L1319.3 245.1 L1321.0 241.0 L1322.6 236.9 L1324.3 232.8 L1325.9 228.8 L1327.5 224.8 L1329.2 220.8 L1330.8 216.9 L1332.5 213.0 L1334.1 209.1 L1335.7 205.3 L1337.4 201.5 L1339.0 197.8 L1340.7 194.1 L1342.3 190.5 L1343.9 186.9 L1345.6 183.5 L1347.2 180.0 L1348.8 176.7 L1350.5 173.4 L1352.1 170.2 L1353.8 167.0 L1355.4 164.0 L1357.0 161.0 L1358.7 158.1 L1360.3 155.3 L1362.0 152.6 L1363.6 149.9 L1365.2 147.4 L1366.9 144.9 L1368.5 142.5 L1370.2 140.2 L1371.8 138.0 L1373.4 135.9 L1375.1 133.9 L1376.7 131.9 L1378.4 130.1 L1380.0 128.3 L1381.6 126.6 L1383.3 125.0 L1384.9 123.5 L1386.6 122.1 L1388.2 120.7 L1389.8 119.5 L1391.5 118.3 L1393.1 117.1 L1394.8 116.1 L1396.4 115.1 L1398.0 114.1 L1399.7 113.2 L1401.3 112.3 L1403.0 111.4 L1404.6 110.6 L1406.2 109.9 L1407.9 109.2 L1409.5 108.5 L1411.2 107.9 L1412.8 107.4 L1414.4 106.9 L1416.1 106.5 L1417.7 106.2 L1419.3 105.9 L1421.0 105.7 L1422.6 105.6 L1424.3 105.6 L1425.9 105.6 L1427.5 105.6 L1429.2 105.8 L1430.8 106.0 L1432.5 106.3 L1434.1 106.6 L1435.7 107.1 L1437.4 107.6 L1439.0 108.2 L1440.7 108.8 L1442.3 109.5 L1443.9 110.3 L1445.6 111.2 L1447.2 112.1 L1448.9 113.2 L1450.5 114.3 L1452.1 115.5 L1453.8 116.7 L1455.4 118.1 L1457.1 119.5 L1458.7 121.0 L1460.3 122.6 L1462.0 124.3 L1463.6 126.0 L1465.3 127.9 L1466.9 129.8 L1468.5 131.8 L1470.2 133.9 L1471.8 136.1 L1473.5 138.4 L1475.1 140.7 L1476.7 143.2 L1478.4 145.7 L1480.0 148.3 L1481.6 151.0 L1483.3 153.8 L1484.9 156.7 L1486.6 159.7 L1488.2 162.8 L1489.8 165.9 L1491.5 169.1 L1493.1 172.5 L1494.8 175.8 L1496.4 179.3 L1498.0 182.9 L1499.7 186.5 L1501.3 190.2 L1503.0 194.0 L1504.6 197.8 L1506.2 201.7 L1507.9 205.7 L1509.5 209.7 L1511.2 213.8 L1512.8 217.9 L1514.4 222.1 L1516.1 226.3 L1517.7 230.6 L1519.4 234.9 L1521.0 239.2 L1522.6 243.6 L1524.3 248.0 L1525.9 252.4 L1527.6 256.9 L1529.2 261.3 L1530.8 265.8 L1532.5 270.2 L1534.1 274.7 L1535.8 279.1 L1537.4 283.6 L1539.0 288.0 L1540.7 292.4 L1542.3 296.8 L1543.9 301.1 L1545.6 305.4 L1547.2 309.7 L1548.9 314.0 L1550.5 318.2 L1552.1 322.3 L1553.8 326.4 L1555.4 330.5 L1557.1 334.5 L1558.7 338.4 L1560.3 342.3 L1562.0 346.1 L1563.6 349.9 L1565.3 353.6 L1566.9 357.2 L1568.5 360.7 L1570.2 364.1 L1571.8 367.5 L1573.5 370.8 L1575.1 374.0 L1576.7 377.2 L1578.4 380.2 L1580.0 383.2 L1581.7 386.1 L1583.3 388.9 L1584.9 391.6 L1586.6 394.3 L1588.2 396.9 L1589.9 399.3 L1591.5 401.7 L1593.1 404.1 L1594.8 406.3 L1596.4 408.5 L1598.1 410.6 L1599.7 412.6 L1601.3 414.5 L1603.0 416.3 L1604.6 418.1 L1606.2 419.8 L1607.9 421.5 L1609.5 423.1 L1611.2 424.6 L1612.8 426.0 L1614.4 427.4 L1616.1 428.7 L1617.7 430.0 L1619.4 431.2 L1621.0 432.3 L1622.6 433.4 L1624.3 434.4 L1625.9 435.4 L1627.6 436.3 L1629.2 437.2 L1630.8 438.1 L1632.5 438.8 L1634.1 439.6 L1635.8 440.3 L1637.4 441.0 L1639.0 441.6 L1640.7 442.2 L1642.3 442.8 L1644.0 443.3 L1645.6 443.8 L1647.2 444.3 L1648.9 444.7 L1650.5 445.2 L1652.2 445.5 L1653.8 445.9 L1655.4 446.3 L1657.1 446.6 L1658.7 446.9 L1660.4 447.2 L1662.0 447.4 L1663.6 447.7 L1665.3 447.9 L1666.9 448.1 L1668.5 448.3 L1670.2 448.5 L1671.8 448.7 L1673.5 448.9 L1675.1 449.0 L1676.7 449.1 L1678.4 449.3 L1680.0 449.4 L1681.7 449.5 L1683.3 449.6 L1684.9 449.7 L1686.6 449.8 L1688.2 449.9 L1689.9 450.0 L1691.5 450.0 L1693.1 450.1 L1694.8 450.1 L1696.4 450.2 L1698.1 450.3 L1699.7 450.3 L1701.3 450.3 L1703.0 450.4 L1704.6 450.4 L1706.3 450.5 L1707.9 450.5 L1709.5 450.5 L1711.2 450.5 L1712.8 450.6 L1714.5 450.6 L1716.1 450.6 L1717.7 450.6 L1719.4 450.6 L1721.0 450.7 L1722.7 450.7 L1724.3 450.7 L1725.9 450.7 L1727.6 450.7 L1729.2 450.7 L1730.8 450.7 L1732.5 450.7 L1734.1 450.7 L1735.8 450.7 L1737.4 450.7 L1739.0 450.8 L1740.7 450.8 L1742.3 450.8 L1744.0 450.8 L1745.6 450.8 L1747.2 450.8 L1748.9 450.8 L1750.5 450.8 L1752.2 450.8 L1753.8 450.8 L1755.4 450.8 L1757.1 450.8 L1758.7 450.8 L1760.4 450.8" fill="none" stroke="#c39227" stroke-width="3.2"/>
<path d="M1035.7 447.4 L1037.3 447.4 L1039.0 447.4 L1040.6 447.4 L1042.3 447.4 L1043.9 447.4 L1045.5 447.4 L1047.2 447.4 L1048.8 447.4 L1050.5 447.4 L1052.1 447.4 L1053.7 447.4 L1055.4 447.4 L1057.0 447.4 L1058.7 447.4 L1060.3 447.4 L1061.9 447.4 L1063.6 447.4 L1065.2 447.4 L1066.9 447.4 L1068.5 447.4 L1070.1 447.4 L1071.8 447.4 L1073.4 447.4 L1075.1 447.4 L1076.7 447.4 L1078.3 447.4 L1080.0 447.4 L1081.6 447.4 L1083.3 447.4 L1084.9 447.4 L1086.5 447.4 L1088.2 447.4 L1089.8 447.4 L1091.5 447.4 L1093.1 447.4 L1094.7 447.4 L1096.4 447.4 L1098.0 447.4 L1099.6 447.4 L1101.3 447.4 L1102.9 447.4 L1104.6 447.4 L1106.2 447.4 L1107.8 447.4 L1109.5 447.4 L1111.1 447.4 L1112.8 447.4 L1114.4 447.4 L1116.0 447.4 L1117.7 447.4 L1119.3 447.4 L1121.0 447.4 L1122.6 447.4 L1124.2 447.4 L1125.9 447.4 L1127.5 447.4 L1129.2 447.4 L1130.8 447.4 L1132.4 447.4 L1134.1 447.4 L1135.7 447.4 L1137.4 447.4 L1139.0 447.4 L1140.6 447.4 L1142.3 447.4 L1143.9 447.4 L1145.6 447.4 L1147.2 447.4 L1148.8 447.4 L1150.5 447.4 L1152.1 447.4 L1153.8 447.4 L1155.4 447.4 L1157.0 447.4 L1158.7 447.4 L1160.3 447.4 L1161.9 447.4 L1163.6 447.4 L1165.2 447.4 L1166.9 447.4 L1168.5 447.4 L1170.1 447.4 L1171.8 447.4 L1173.4 447.4 L1175.1 447.4 L1176.7 447.4 L1178.3 447.4 L1180.0 447.4 L1181.6 447.4 L1183.3 447.4 L1184.9 447.4 L1186.5 447.4 L1188.2 447.4 L1189.8 447.4 L1191.5 447.4 L1193.1 447.4 L1194.7 447.4 L1196.4 447.4 L1198.0 447.4 L1199.7 447.4 L1201.3 447.4 L1202.9 447.4 L1204.6 447.4 L1206.2 447.4 L1207.9 447.4 L1209.5 447.4 L1211.1 447.4 L1212.8 447.4 L1214.4 447.4 L1216.1 447.4 L1217.7 447.4 L1219.3 447.4 L1221.0 447.4 L1222.6 447.4 L1224.2 447.4 L1225.9 447.4 L1227.5 447.4 L1229.2 447.4 L1230.8 447.4 L1232.4 447.4 L1234.1 447.4 L1235.7 447.4 L1237.4 447.4 L1239.0 447.4 L1240.6 447.4 L1242.3 447.4 L1243.9 447.4 L1245.6 447.4 L1247.2 447.4 L1248.8 447.4 L1250.5 447.4 L1252.1 447.4 L1253.8 447.4 L1255.4 447.4 L1257.0 447.4 L1258.7 447.4 L1260.3 447.4 L1262.0 447.4 L1263.6 447.4 L1265.2 447.4 L1266.9 447.4 L1268.5 447.4 L1270.2 447.4 L1271.8 447.4 L1273.4 447.4 L1275.1 447.4 L1276.7 447.4 L1278.4 447.4 L1280.0 447.4 L1281.6 447.4 L1283.3 447.4 L1284.9 447.4 L1286.5 447.4 L1288.2 447.4 L1289.8 447.4 L1291.5 447.4 L1293.1 447.4 L1294.7 447.4 L1296.4 447.4 L1298.0 447.4 L1299.7 447.4 L1301.3 447.4 L1302.9 447.4 L1304.6 447.4 L1306.2 447.4 L1307.9 447.4 L1309.5 447.4 L1311.1 447.4 L1312.8 447.4 L1314.4 447.4 L1316.1 447.4 L1317.7 447.4 L1319.3 447.4 L1321.0 447.4 L1322.6 447.4 L1324.3 447.4 L1325.9 447.4 L1327.5 447.4 L1329.2 447.4 L1330.8 447.4 L1332.5 447.4 L1334.1 447.4 L1335.7 447.4 L1337.4 447.4 L1339.0 447.4 L1340.7 447.4 L1342.3 447.4 L1343.9 447.4 L1345.6 447.4 L1347.2 447.4 L1348.8 447.4 L1350.5 447.4 L1352.1 447.4 L1353.8 447.4 L1355.4 447.4 L1357.0 447.4 L1358.7 447.4 L1360.3 447.4 L1362.0 447.4 L1363.6 447.4 L1365.2 447.4 L1366.9 447.4 L1368.5 447.4 L1370.2 447.4 L1371.8 447.4 L1373.4 447.4 L1375.1 447.4 L1376.7 447.4 L1378.4 447.4 L1380.0 447.4 L1381.6 447.4 L1383.3 447.4 L1384.9 447.4 L1386.6 447.4 L1388.2 447.4 L1389.8 447.4 L1391.5 447.4 L1393.1 447.4 L1394.8 447.4 L1396.4 447.4 L1398.0 447.4 L1399.7 447.4 L1401.3 447.4 L1403.0 447.4 L1404.6 447.4 L1406.2 447.4 L1407.9 447.4 L1409.5 447.4 L1411.2 447.4 L1412.8 447.4 L1414.4 447.4 L1416.1 447.4 L1417.7 447.4 L1419.3 447.4 L1421.0 447.4 L1422.6 447.4 L1424.3 447.4 L1425.9 447.4 L1427.5 447.4 L1429.2 447.4 L1430.8 447.4 L1432.5 447.4 L1434.1 447.4 L1435.7 447.4 L1437.4 447.4 L1439.0 447.4 L1440.7 447.4 L1442.3 447.4 L1443.9 447.4 L1445.6 447.4 L1447.2 447.4 L1448.9 447.4 L1450.5 447.4 L1452.1 447.4 L1453.8 447.4 L1455.4 447.4 L1457.1 447.4 L1458.7 447.4 L1460.3 447.4 L1462.0 447.4 L1463.6 447.4 L1465.3 447.4 L1466.9 447.4 L1468.5 447.4 L1470.2 447.4 L1471.8 447.4 L1473.5 447.4 L1475.1 447.4 L1476.7 447.4 L1478.4 447.4 L1480.0 447.4 L1481.6 447.4 L1483.3 447.4 L1484.9 447.4 L1486.6 447.4 L1488.2 447.4 L1489.8 447.4 L1491.5 447.4 L1493.1 447.4 L1494.8 447.4 L1496.4 447.4 L1498.0 447.4 L1499.7 447.4 L1501.3 447.4 L1503.0 447.4 L1504.6 447.4 L1506.2 447.4 L1507.9 447.4 L1509.5 447.4 L1511.2 447.4 L1512.8 447.4 L1514.4 447.4 L1516.1 447.4 L1517.7 447.4 L1519.4 447.4 L1521.0 447.4 L1522.6 447.4 L1524.3 447.4 L1525.9 447.4 L1527.6 447.4 L1529.2 447.4 L1530.8 447.4 L1532.5 447.4 L1534.1 447.4 L1535.8 447.4 L1537.4 447.4 L1539.0 447.4 L1540.7 447.4 L1542.3 447.4 L1543.9 447.4 L1545.6 447.4 L1547.2 447.4 L1548.9 447.4 L1550.5 447.4 L1552.1 447.4 L1553.8 447.4 L1555.4 447.4 L1557.1 447.4 L1558.7 447.4 L1560.3 447.4 L1562.0 447.4 L1563.6 447.4 L1565.3 447.4 L1566.9 447.4 L1568.5 447.4 L1570.2 447.4 L1571.8 447.4 L1573.5 447.4 L1575.1 447.4 L1576.7 447.4 L1578.4 447.4 L1580.0 447.4 L1581.7 447.4 L1583.3 447.4 L1584.9 447.4 L1586.6 447.4 L1588.2 447.4 L1589.9 447.4 L1591.5 447.4 L1593.1 447.4 L1594.8 447.4 L1596.4 447.4 L1598.1 447.4 L1599.7 447.4 L1601.3 447.4 L1603.0 447.4 L1604.6 447.4 L1606.2 447.4 L1607.9 447.4 L1609.5 447.4 L1611.2 447.4 L1612.8 447.4 L1614.4 447.4 L1616.1 447.4 L1617.7 447.4 L1619.4 447.4 L1621.0 447.4 L1622.6 447.4 L1624.3 447.4 L1625.9 447.4 L1627.6 447.4 L1629.2 447.4 L1630.8 447.4 L1632.5 447.4 L1634.1 447.4 L1635.8 447.4 L1637.4 447.4 L1639.0 447.4 L1640.7 447.4 L1642.3 447.4 L1644.0 447.4 L1645.6 447.4 L1647.2 447.4 L1648.9 447.4 L1650.5 447.4 L1652.2 447.4 L1653.8 447.4 L1655.4 447.4 L1657.1 447.4 L1658.7 447.4 L1660.4 447.4 L1662.0 447.4 L1663.6 447.4 L1665.3 447.4 L1666.9 447.4 L1668.5 447.4 L1670.2 447.4 L1671.8 447.4 L1673.5 447.4 L1675.1 447.4 L1676.7 447.4 L1678.4 447.4 L1680.0 447.4 L1681.7 447.4 L1683.3 447.4 L1684.9 447.4 L1686.6 447.4 L1688.2 447.4 L1689.9 447.4 L1691.5 447.4 L1693.1 447.4 L1694.8 447.4 L1696.4 447.4 L1698.1 447.4 L1699.7 447.4 L1701.3 447.4 L1703.0 447.4 L1704.6 447.4 L1706.3 447.4 L1707.9 447.4 L1709.5 447.4 L1711.2 447.4 L1712.8 447.4 L1714.5 447.4 L1716.1 447.4 L1717.7 447.4 L1719.4 447.4 L1721.0 447.4 L1722.7 447.4 L1724.3 447.4 L1725.9 447.4 L1727.6 447.4 L1729.2 447.4 L1730.8 447.4 L1732.5 447.4 L1734.1 447.4 L1735.8 447.4 L1737.4 447.4 L1739.0 447.4 L1740.7 447.4 L1742.3 447.4 L1744.0 447.4 L1745.6 447.4 L1747.2 447.4 L1748.9 447.4 L1750.5 447.4 L1752.2 447.4 L1753.8 447.4 L1755.4 447.4 L1757.1 447.4 L1758.7 447.4 L1760.4 447.4" fill="none" stroke="#45bcc4" stroke-width="2.9" stroke-dasharray="7.6 7.2" style="mix-blend-mode:multiply"/>
<path d="M1035.7 447.4 L1037.3 447.4 L1039.0 447.4 L1040.6 447.4 L1042.3 447.4 L1043.9 447.4 L1045.5 447.4 L1047.2 447.4 L1048.8 447.4 L1050.5 447.4 L1052.1 447.4 L1053.7 447.4 L1055.4 447.4 L1057.0 447.4 L1058.7 447.4 L1060.3 447.4 L1061.9 447.4 L1063.6 447.4 L1065.2 447.4 L1066.9 447.4 L1068.5 447.4 L1070.1 447.4 L1071.8 447.4 L1073.4 447.4 L1075.1 447.4 L1076.7 447.4 L1078.3 447.4 L1080.0 447.4 L1081.6 447.4 L1083.3 447.4 L1084.9 447.4 L1086.5 447.4 L1088.2 447.4 L1089.8 447.4 L1091.5 447.4 L1093.1 447.4 L1094.7 447.4 L1096.4 447.4 L1098.0 447.4 L1099.6 447.4 L1101.3 447.4 L1102.9 447.4 L1104.6 447.4 L1106.2 447.4 L1107.8 447.4 L1109.5 447.4 L1111.1 447.4 L1112.8 447.4 L1114.4 447.4 L1116.0 447.4 L1117.7 447.4 L1119.3 447.4 L1121.0 447.4 L1122.6 447.4 L1124.2 447.4 L1125.9 447.4 L1127.5 447.4 L1129.2 447.4 L1130.8 447.4 L1132.4 447.4 L1134.1 447.4 L1135.7 447.4 L1137.4 447.4 L1139.0 447.4 L1140.6 447.4 L1142.3 447.4 L1143.9 447.4 L1145.6 447.4 L1147.2 447.4 L1148.8 447.4 L1150.5 447.4 L1152.1 447.4 L1153.8 447.4 L1155.4 447.4 L1157.0 447.4 L1158.7 447.4 L1160.3 447.4 L1161.9 447.4 L1163.6 447.4 L1165.2 447.4 L1166.9 447.4 L1168.5 447.4 L1170.1 447.4 L1171.8 447.4 L1173.4 447.4 L1175.1 447.4 L1176.7 447.4 L1178.3 447.4 L1180.0 447.4 L1181.6 447.4 L1183.3 447.4 L1184.9 447.4 L1186.5 447.4 L1188.2 447.4 L1189.8 447.4 L1191.5 447.4 L1193.1 447.4 L1194.7 447.4 L1196.4 447.4 L1198.0 447.4 L1199.7 447.4 L1201.3 447.4 L1202.9 447.4 L1204.6 447.4 L1206.2 447.4 L1207.9 447.4 L1209.5 447.4 L1211.1 447.4 L1212.8 447.4 L1214.4 447.4 L1216.1 447.4 L1217.7 447.4 L1219.3 447.4 L1221.0 447.4 L1222.6 447.4 L1224.2 447.4 L1225.9 447.4 L1227.5 447.4 L1229.2 447.4 L1230.8 447.4 L1232.4 447.4 L1234.1 447.4 L1235.7 447.4 L1237.4 447.4 L1239.0 447.4 L1240.6 447.4 L1242.3 447.4 L1243.9 447.4 L1245.6 447.4 L1247.2 447.4 L1248.8 447.4 L1250.5 447.4 L1252.1 447.4 L1253.8 447.4 L1255.4 447.4 L1257.0 447.4 L1258.7 447.4 L1260.3 447.4 L1262.0 447.4 L1263.6 447.4 L1265.2 447.4 L1266.9 447.4 L1268.5 447.4 L1270.2 447.4 L1271.8 447.4 L1273.4 447.4 L1275.1 447.4 L1276.7 447.4 L1278.4 447.4 L1280.0 447.4 L1281.6 447.3 L1283.3 447.3 L1284.9 447.3 L1286.5 447.3 L1288.2 447.3 L1289.8 447.3 L1291.5 447.3 L1293.1 447.3 L1294.7 447.3 L1296.4 447.3 L1298.0 447.3 L1299.7 447.3 L1301.3 447.2 L1302.9 447.2 L1304.6 447.2 L1306.2 447.2 L1307.9 447.2 L1309.5 447.1 L1311.1 447.1 L1312.8 447.1 L1314.4 447.1 L1316.1 447.0 L1317.7 447.0 L1319.3 447.0 L1321.0 446.9 L1322.6 446.9 L1324.3 446.8 L1325.9 446.8 L1327.5 446.7 L1329.2 446.7 L1330.8 446.6 L1332.5 446.5 L1334.1 446.5 L1335.7 446.4 L1337.4 446.3 L1339.0 446.2 L1340.7 446.1 L1342.3 446.0 L1343.9 445.9 L1345.6 445.8 L1347.2 445.6 L1348.8 445.5 L1350.5 445.3 L1352.1 445.2 L1353.8 445.0 L1355.4 444.8 L1357.0 444.6 L1358.7 444.4 L1360.3 444.2 L1362.0 443.9 L1363.6 443.7 L1365.2 443.4 L1366.9 443.1 L1368.5 442.8 L1370.2 442.5 L1371.8 442.1 L1373.4 441.7 L1375.1 441.3 L1376.7 440.9 L1378.4 440.5 L1380.0 440.0 L1381.6 439.5 L1383.3 438.9 L1384.9 438.4 L1386.6 437.8 L1388.2 437.1 L1389.8 436.5 L1391.5 435.8 L1393.1 435.0 L1394.8 434.2 L1396.4 433.4 L1398.0 432.5 L1399.7 431.6 L1401.3 430.6 L1403.0 429.6 L1404.6 428.6 L1406.2 427.4 L1407.9 426.3 L1409.5 425.0 L1411.2 423.7 L1412.8 422.4 L1414.4 421.0 L1416.1 419.5 L1417.7 417.9 L1419.3 416.3 L1421.0 414.6 L1422.6 412.9 L1424.3 411.0 L1425.9 409.1 L1427.5 407.1 L1429.2 405.0 L1430.8 402.9 L1432.5 400.6 L1434.1 398.3 L1435.7 395.9 L1437.4 393.4 L1439.0 390.8 L1440.7 388.1 L1442.3 385.3 L1443.9 382.5 L1445.6 379.5 L1447.2 376.4 L1448.9 373.3 L1450.5 370.0 L1452.1 366.6 L1453.8 363.2 L1455.4 359.6 L1457.1 355.9 L1458.7 352.1 L1460.3 348.3 L1462.0 344.3 L1463.6 340.2 L1465.3 336.0 L1466.9 331.8 L1468.5 327.4 L1470.2 322.9 L1471.8 318.4 L1473.5 313.7 L1475.1 308.9 L1476.7 304.1 L1478.4 299.2 L1480.0 294.1 L1481.6 289.0 L1483.3 283.8 L1484.9 278.6 L1486.6 273.2 L1488.2 267.8 L1489.8 262.3 L1491.5 256.8 L1493.1 251.2 L1494.8 245.5 L1496.4 239.8 L1498.0 234.1 L1499.7 228.3 L1501.3 222.5 L1503.0 216.6 L1504.6 210.7 L1506.2 204.8 L1507.9 198.9 L1509.5 193.0 L1511.2 187.1 L1512.8 181.2 L1514.4 175.3 L1516.1 169.4 L1517.7 163.6 L1519.4 157.8 L1521.0 152.0 L1522.6 146.3 L1524.3 140.6 L1525.9 135.0 L1527.6 129.5 L1529.2 124.1 L1530.8 118.7 L1532.5 113.4 L1534.1 108.3 L1535.8 103.2 L1537.4 98.3 L1539.0 93.4 L1540.7 88.8 L1542.3 84.2 L1543.9 79.8 L1545.6 75.5 L1547.2 71.4 L1548.9 67.4 L1550.5 63.7 L1552.1 60.1 L1553.8 56.6 L1555.4 53.4 L1557.1 50.3 L1558.7 47.5 L1560.3 44.8 L1562.0 42.3 L1563.6 40.1 L1565.3 38.0 L1566.9 36.2 L1568.5 34.6 L1570.2 33.2 L1571.8 32.0 L1573.5 31.1 L1575.1 30.3 L1576.7 29.8 L1578.4 29.6 L1580.0 29.5 L1581.7 29.7 L1583.3 30.1 L1584.9 30.7 L1586.6 31.6 L1588.2 32.7 L1589.9 34.0 L1591.5 35.5 L1593.1 37.3 L1594.8 39.2 L1596.4 41.4 L1598.1 43.8 L1599.7 46.4 L1601.3 49.1 L1603.0 52.1 L1604.6 55.3 L1606.2 58.7 L1607.9 62.2 L1609.5 65.9 L1611.2 69.8 L1612.8 73.8 L1614.4 78.1 L1616.1 82.4 L1617.7 86.9 L1619.4 91.6 L1621.0 96.3 L1622.6 101.2 L1624.3 106.2 L1625.9 111.4 L1627.6 116.6 L1629.2 121.9 L1630.8 127.3 L1632.5 132.8 L1634.1 138.4 L1635.8 144.0 L1637.4 149.7 L1639.0 155.5 L1640.7 161.3 L1642.3 167.1 L1644.0 172.9 L1645.6 178.8 L1647.2 184.7 L1648.9 190.6 L1650.5 196.6 L1652.2 202.5 L1653.8 208.4 L1655.4 214.3 L1657.1 220.1 L1658.7 226.0 L1660.4 231.8 L1662.0 237.5 L1663.6 243.3 L1665.3 248.9 L1666.9 254.6 L1668.5 260.1 L1670.2 265.6 L1671.8 271.1 L1673.5 276.4 L1675.1 281.7 L1676.7 287.0 L1678.4 292.1 L1680.0 297.2 L1681.7 302.1 L1683.3 307.0 L1684.9 311.8 L1686.6 316.5 L1688.2 321.1 L1689.9 325.6 L1691.5 330.0 L1693.1 334.3 L1694.8 338.6 L1696.4 342.7 L1698.1 346.7 L1699.7 350.6 L1701.3 354.4 L1703.0 358.1 L1704.6 361.7 L1706.3 365.2 L1707.9 368.7 L1709.5 372.0 L1711.2 375.2 L1712.8 378.3 L1714.5 381.3 L1716.1 384.2 L1717.7 387.0 L1719.4 389.7 L1721.0 392.4 L1722.7 394.9 L1724.3 397.4 L1725.9 399.7 L1727.6 402.0 L1729.2 404.2 L1730.8 406.3 L1732.5 408.3 L1734.1 410.3 L1735.8 412.1 L1737.4 413.9 L1739.0 415.6 L1740.7 417.3 L1742.3 418.9 L1744.0 420.4 L1745.6 421.8 L1747.2 423.2 L1748.9 424.5 L1750.5 425.8 L1752.2 427.0 L1753.8 428.1 L1755.4 429.2 L1757.1 430.2 L1758.7 431.2 L1760.4 432.2" fill="none" stroke="#fa1a0e" stroke-width="3" stroke-dasharray="7.6 7.2"/>
<path d="M1035.7 447.4 L1037.3 447.4 L1039.0 447.4 L1040.6 447.4 L1042.3 447.4 L1043.9 447.4 L1045.5 447.4 L1047.2 447.4 L1048.8 447.4 L1050.5 447.4 L1052.1 447.4 L1053.7 447.4 L1055.4 447.4 L1057.0 447.4 L1058.7 447.4 L1060.3 447.4 L1061.9 447.4 L1063.6 447.4 L1065.2 447.4 L1066.9 447.4 L1068.5 447.4 L1070.1 447.4 L1071.8 447.4 L1073.4 447.4 L1075.1 447.4 L1076.7 447.4 L1078.3 447.4 L1080.0 447.4 L1081.6 447.4 L1083.3 447.4 L1084.9 447.4 L1086.5 447.4 L1088.2 447.4 L1089.8 447.4 L1091.5 447.4 L1093.1 447.4 L1094.7 447.4 L1096.4 447.4 L1098.0 447.4 L1099.6 447.4 L1101.3 447.4 L1102.9 447.4 L1104.6 447.4 L1106.2 447.4 L1107.8 447.4 L1109.5 447.4 L1111.1 447.4 L1112.8 447.4 L1114.4 447.4 L1116.0 447.4 L1117.7 447.4 L1119.3 447.4 L1121.0 447.4 L1122.6 447.4 L1124.2 447.4 L1125.9 447.4 L1127.5 447.4 L1129.2 447.4 L1130.8 447.4 L1132.4 447.4 L1134.1 447.4 L1135.7 447.4 L1137.4 447.4 L1139.0 447.4 L1140.6 447.4 L1142.3 447.4 L1143.9 447.4 L1145.6 447.4 L1147.2 447.4 L1148.8 447.4 L1150.5 447.4 L1152.1 447.4 L1153.8 447.4 L1155.4 447.4 L1157.0 447.4 L1158.7 447.4 L1160.3 447.4 L1161.9 447.4 L1163.6 447.4 L1165.2 447.4 L1166.9 447.4 L1168.5 447.4 L1170.1 447.4 L1171.8 447.4 L1173.4 447.4 L1175.1 447.4 L1176.7 447.4 L1178.3 447.4 L1180.0 447.4 L1181.6 447.4 L1183.3 447.4 L1184.9 447.4 L1186.5 447.4 L1188.2 447.4 L1189.8 447.4 L1191.5 447.4 L1193.1 447.4 L1194.7 447.4 L1196.4 447.4 L1198.0 447.4 L1199.7 447.4 L1201.3 447.4 L1202.9 447.4 L1204.6 447.4 L1206.2 447.4 L1207.9 447.4 L1209.5 447.4 L1211.1 447.4 L1212.8 447.4 L1214.4 447.4 L1216.1 447.4 L1217.7 447.4 L1219.3 447.4 L1221.0 447.4 L1222.6 447.4 L1224.2 447.4 L1225.9 447.4 L1227.5 447.4 L1229.2 447.4 L1230.8 447.4 L1232.4 447.4 L1234.1 447.4 L1235.7 447.4 L1237.4 447.4 L1239.0 447.4 L1240.6 447.4 L1242.3 447.4 L1243.9 447.4 L1245.6 447.4 L1247.2 447.4 L1248.8 447.4 L1250.5 447.4 L1252.1 447.4 L1253.8 447.4 L1255.4 447.4 L1257.0 447.4 L1258.7 447.4 L1260.3 447.4 L1262.0 447.4 L1263.6 447.4 L1265.2 447.4 L1266.9 447.4 L1268.5 447.4 L1270.2 447.4 L1271.8 447.4 L1273.4 447.4 L1275.1 447.4 L1276.7 447.4 L1278.4 447.4 L1280.0 447.4 L1281.6 447.4 L1283.3 447.4 L1284.9 447.4 L1286.5 447.4 L1288.2 447.4 L1289.8 447.4 L1291.5 447.4 L1293.1 447.3 L1294.7 447.3 L1296.4 447.3 L1298.0 447.3 L1299.7 447.3 L1301.3 447.3 L1302.9 447.3 L1304.6 447.3 L1306.2 447.3 L1307.9 447.3 L1309.5 447.3 L1311.1 447.3 L1312.8 447.2 L1314.4 447.2 L1316.1 447.2 L1317.7 447.2 L1319.3 447.2 L1321.0 447.2 L1322.6 447.1 L1324.3 447.1 L1325.9 447.1 L1327.5 447.1 L1329.2 447.0 L1330.8 447.0 L1332.5 447.0 L1334.1 446.9 L1335.7 446.9 L1337.4 446.8 L1339.0 446.8 L1340.7 446.8 L1342.3 446.7 L1343.9 446.6 L1345.6 446.6 L1347.2 446.5 L1348.8 446.4 L1350.5 446.4 L1352.1 446.3 L1353.8 446.2 L1355.4 446.1 L1357.0 446.0 L1358.7 445.9 L1360.3 445.8 L1362.0 445.7 L1363.6 445.5 L1365.2 445.4 L1366.9 445.3 L1368.5 445.1 L1370.2 444.9 L1371.8 444.8 L1373.4 444.6 L1375.1 444.4 L1376.7 444.2 L1378.4 443.9 L1380.0 443.7 L1381.6 443.4 L1383.3 443.2 L1384.9 442.9 L1386.6 442.6 L1388.2 442.3 L1389.8 441.9 L1391.5 441.6 L1393.1 441.2 L1394.8 440.8 L1396.4 440.4 L1398.0 440.0 L1399.7 439.5 L1401.3 439.0 L1403.0 438.5 L1404.6 438.0 L1406.2 437.4 L1407.9 436.8 L1409.5 436.2 L1411.2 435.6 L1412.8 434.9 L1414.4 434.2 L1416.1 433.4 L1417.7 432.7 L1419.3 431.9 L1421.0 431.0 L1422.6 430.1 L1424.3 429.2 L1425.9 428.3 L1427.5 427.3 L1429.2 426.2 L1430.8 425.1 L1432.5 424.0 L1434.1 422.9 L1435.7 421.7 L1437.4 420.4 L1439.0 419.1 L1440.7 417.8 L1442.3 416.4 L1443.9 414.9 L1445.6 413.4 L1447.2 411.9 L1448.9 410.3 L1450.5 408.7 L1452.1 407.0 L1453.8 405.3 L1455.4 403.5 L1457.1 401.7 L1458.7 399.8 L1460.3 397.8 L1462.0 395.8 L1463.6 393.8 L1465.3 391.7 L1466.9 389.6 L1468.5 387.4 L1470.2 385.2 L1471.8 382.9 L1473.5 380.5 L1475.1 378.2 L1476.7 375.7 L1478.4 373.3 L1480.0 370.8 L1481.6 368.2 L1483.3 365.6 L1484.9 363.0 L1486.6 360.3 L1488.2 357.6 L1489.8 354.9 L1491.5 352.1 L1493.1 349.3 L1494.8 346.5 L1496.4 343.6 L1498.0 340.7 L1499.7 337.8 L1501.3 334.9 L1503.0 332.0 L1504.6 329.1 L1506.2 326.1 L1507.9 323.2 L1509.5 320.2 L1511.2 317.2 L1512.8 314.3 L1514.4 311.3 L1516.1 308.4 L1517.7 305.5 L1519.4 302.6 L1521.0 299.7 L1522.6 296.8 L1524.3 294.0 L1525.9 291.2 L1527.6 288.5 L1529.2 285.7 L1530.8 283.1 L1532.5 280.4 L1534.1 277.8 L1535.8 275.3 L1537.4 272.8 L1539.0 270.4 L1540.7 268.1 L1542.3 265.8 L1543.9 263.6 L1545.6 261.5 L1547.2 259.4 L1548.9 257.4 L1550.5 255.5 L1552.1 253.7 L1553.8 252.0 L1555.4 250.4 L1557.1 248.9 L1558.7 247.4 L1560.3 246.1 L1562.0 244.9 L1563.6 243.7 L1565.3 242.7 L1566.9 241.8 L1568.5 241.0 L1570.2 240.3 L1571.8 239.7 L1573.5 239.2 L1575.1 238.9 L1576.7 238.6 L1578.4 238.5 L1580.0 238.5 L1581.7 238.5 L1583.3 238.8 L1584.9 239.1 L1586.6 239.5 L1588.2 240.0 L1589.9 240.7 L1591.5 241.5 L1593.1 242.3 L1594.8 243.3 L1596.4 244.4 L1598.1 245.6 L1599.7 246.9 L1601.3 248.3 L1603.0 249.8 L1604.6 251.4 L1606.2 253.0 L1607.9 254.8 L1609.5 256.7 L1611.2 258.6 L1612.8 260.6 L1614.4 262.7 L1616.1 264.9 L1617.7 267.2 L1619.4 269.5 L1621.0 271.9 L1622.6 274.3 L1624.3 276.8 L1625.9 279.4 L1627.6 282.0 L1629.2 284.7 L1630.8 287.4 L1632.5 290.1 L1634.1 292.9 L1635.8 295.7 L1637.4 298.6 L1639.0 301.4 L1640.7 304.3 L1642.3 307.2 L1644.0 310.2 L1645.6 313.1 L1647.2 316.1 L1648.9 319.0 L1650.5 322.0 L1652.2 324.9 L1653.8 327.9 L1655.4 330.8 L1657.1 333.8 L1658.7 336.7 L1660.4 339.6 L1662.0 342.5 L1663.6 345.3 L1665.3 348.2 L1666.9 351.0 L1668.5 353.8 L1670.2 356.5 L1671.8 359.2 L1673.5 361.9 L1675.1 364.6 L1676.7 367.2 L1678.4 369.7 L1680.0 372.3 L1681.7 374.8 L1683.3 377.2 L1684.9 379.6 L1686.6 382.0 L1688.2 384.3 L1689.9 386.5 L1691.5 388.7 L1693.1 390.9 L1694.8 393.0 L1696.4 395.0 L1698.1 397.0 L1699.7 399.0 L1701.3 400.9 L1703.0 402.8 L1704.6 404.6 L1706.3 406.3 L1707.9 408.0 L1709.5 409.7 L1711.2 411.3 L1712.8 412.8 L1714.5 414.3 L1716.1 415.8 L1717.7 417.2 L1719.4 418.6 L1721.0 419.9 L1722.7 421.2 L1724.3 422.4 L1725.9 423.6 L1727.6 424.7 L1729.2 425.8 L1730.8 426.8 L1732.5 427.9 L1734.1 428.8 L1735.8 429.8 L1737.4 430.7 L1739.0 431.5 L1740.7 432.3 L1742.3 433.1 L1744.0 433.9 L1745.6 434.6 L1747.2 435.3 L1748.9 436.0 L1750.5 436.6 L1752.2 437.2 L1753.8 437.8 L1755.4 438.3 L1757.1 438.8 L1758.7 439.3 L1760.4 439.8" fill="none" stroke="#c39227" stroke-width="3" stroke-dasharray="7.6 7.2"/>
<line x1="1400.0" y1="10.2" x2="1400.0" y2="473.2" stroke="#161616" stroke-width="1.4"/>
<rect x="1024.7" y="10.2" width="750.0" height="463.0" fill="none" stroke="#000" stroke-width="1.7"/>
<line x1="1072.4" y1="473.2" x2="1072.4" y2="466.2" stroke="#000" stroke-width="1.3"/>
<text x="1068.4" y="504" text-anchor="middle" font-size="27.6" font-family="Liberation Sans, Arial, sans-serif" stroke="#000" stroke-width="0.45" paint-order="stroke">−1</text>
<line x1="1236.2" y1="473.2" x2="1236.2" y2="466.2" stroke="#000" stroke-width="1.3"/>
<text x="1232.2" y="504" text-anchor="middle" font-size="27.6" font-family="Liberation Sans, Arial, sans-serif" stroke="#000" stroke-width="0.45" paint-order="stroke">−0.5</text>
<line x1="1400.0" y1="473.2" x2="1400.0" y2="466.2" stroke="#000" stroke-width="1.3"/>
<text x="1400.0" y="504" text-anchor="middle" font-size="27.6" font-family="Liberation Sans, Arial, sans-serif" stroke="#000" stroke-width="0.45" paint-order="stroke">0</text>
<line x1="1563.8" y1="473.2" x2="1563.8" y2="466.2" stroke="#000" stroke-width="1.3"/>
<text x="1563.8" y="504" text-anchor="middle" font-size="27.6" font-family="Liberation Sans, Arial, sans-serif" stroke="#000" stroke-width="0.45" paint-order="stroke">0.5</text>
<line x1="1727.6" y1="473.2" x2="1727.6" y2="466.2" stroke="#000" stroke-width="1.3"/>
<text x="1727.6" y="504" text-anchor="middle" font-size="27.6" font-family="Liberation Sans, Arial, sans-serif" stroke="#000" stroke-width="0.45" paint-order="stroke">1</text>
<line x1="1024.7" y1="450.8" x2="1031.7" y2="450.8" stroke="#000" stroke-width="1.3"/>
<text x="1015.5" y="459.4" text-anchor="end" font-size="27.6" font-family="Liberation Sans, Arial, sans-serif" stroke="#000" stroke-width="0.45" paint-order="stroke">0</text>
<line x1="1024.7" y1="288.9" x2="1031.7" y2="288.9" stroke="#000" stroke-width="1.3"/>
<text x="1015.5" y="297.5" text-anchor="end" font-size="27.6" font-family="Liberation Sans, Arial, sans-serif" stroke="#000" stroke-width="0.45" paint-order="stroke">2</text>
<line x1="1024.7" y1="127.0" x2="1031.7" y2="127.0" stroke="#000" stroke-width="1.3"/>
<text x="1015.5" y="135.6" text-anchor="end" font-size="27.6" font-family="Liberation Sans, Arial, sans-serif" stroke="#000" stroke-width="0.45" paint-order="stroke">4</text>
<line x1="1774.7" y1="447.4" x2="1767.7" y2="447.4" stroke="#000" stroke-width="1.3"/>
<text x="1779.5" y="456.0" font-size="27.6" font-family="Liberation Sans, Arial, sans-serif" stroke="#000" stroke-width="0.45" paint-order="stroke">0</text>
<line x1="1774.7" y1="308.1" x2="1767.7" y2="308.1" stroke="#000" stroke-width="1.3"/>
<text x="1779.5" y="316.7" font-size="27.6" font-family="Liberation Sans, Arial, sans-serif" stroke="#000" stroke-width="0.45" paint-order="stroke">2</text>
<line x1="1774.7" y1="168.8" x2="1767.7" y2="168.8" stroke="#000" stroke-width="1.3"/>
<text x="1779.5" y="177.4" font-size="27.6" font-family="Liberation Sans, Arial, sans-serif" stroke="#000" stroke-width="0.45" paint-order="stroke">4</text>
<line x1="1774.7" y1="29.5" x2="1767.7" y2="29.5" stroke="#000" stroke-width="1.3"/>
<text x="1779.5" y="38.1" font-size="27.6" font-family="Liberation Sans, Arial, sans-serif" stroke="#000" stroke-width="0.45" paint-order="stroke">6</text>
<text x="1398" y="549" text-anchor="middle" font-size="27.3" textLength="220" lengthAdjust="spacingAndGlyphs" font-family="Liberation Sans, Arial, sans-serif" stroke="#000" stroke-width="0.45" paint-order="stroke">x coordinate, [mm]</text>
<text transform="translate(983.1 240.3) rotate(-90)" text-anchor="middle" font-size="27.3" textLength="452" lengthAdjust="spacingAndGlyphs" font-family="Liberation Sans, Arial, sans-serif" stroke="#000" stroke-width="0.45" paint-order="stroke">Shaped Intensity [solid], [W <tspan font-style="italic">m</tspan><tspan dy="-15.5" font-size="19"> −2</tspan><tspan dy="15.5">,x10</tspan><tspan dy="-15.5" font-size="19">7</tspan><tspan dy="15.5">]</tspan></text>
<text transform="translate(1837.7 236.7) rotate(-90)" text-anchor="middle" font-size="27.3" textLength="461.2" lengthAdjust="spacingAndGlyphs" font-family="Liberation Sans, Arial, sans-serif" stroke="#000" stroke-width="0.45" paint-order="stroke">Pump Intensity [dashed], [W <tspan font-style="italic">m</tspan><tspan dy="-15.5" font-size="19"> −2</tspan><tspan dy="15.5">,x10</tspan><tspan dy="-15.5" font-size="19">7</tspan><tspan dy="15.5">]</tspan></text></g>
<g id="annot"><clipPath id="s1"><path d="M272.8 224.4 L276.8 111.0 L269.6 111.0 L283.6 70.1 L296.8 111.0 L289.6 111.0 L293.6 224.4 Z"/></clipPath><g clip-path="url(#s1)"><line x1="270.41" y1="68.1" x2="270.41" y2="225.4" stroke="#ff0a0a" stroke-width="1.45"/><line x1="273.50" y1="68.1" x2="273.50" y2="225.4" stroke="#ff0a0a" stroke-width="1.45"/><line x1="276.59" y1="68.1" x2="276.59" y2="225.4" stroke="#ff0a0a" stroke-width="1.45"/><line x1="279.68" y1="68.1" x2="279.68" y2="225.4" stroke="#ff0a0a" stroke-width="1.45"/><line x1="282.77" y1="68.1" x2="282.77" y2="225.4" stroke="#ff0a0a" stroke-width="1.45"/><line x1="285.86" y1="68.1" x2="285.86" y2="225.4" stroke="#ff0a0a" stroke-width="1.45"/><line x1="288.95" y1="68.1" x2="288.95" y2="225.4" stroke="#ff0a0a" stroke-width="1.45"/><line x1="292.04" y1="68.1" x2="292.04" y2="225.4" stroke="#ff0a0a" stroke-width="1.45"/><line x1="295.13" y1="68.1" x2="295.13" y2="225.4" stroke="#ff0a0a" stroke-width="1.45"/></g>
<clipPath id="s2"><path d="M602.8 219.4 L606.8 106.5 L599.6 106.5 L613.6 65.1 L626.8 106.5 L619.6 106.5 L623.6 219.4 Z"/></clipPath><g clip-path="url(#s2)"><line x1="600.41" y1="63.099999999999994" x2="600.41" y2="220.4" stroke="#ff0a0a" stroke-width="1.45"/><line x1="603.50" y1="63.099999999999994" x2="603.50" y2="220.4" stroke="#ff0a0a" stroke-width="1.45"/><line x1="606.59" y1="63.099999999999994" x2="606.59" y2="220.4" stroke="#ff0a0a" stroke-width="1.45"/><line x1="609.68" y1="63.099999999999994" x2="609.68" y2="220.4" stroke="#ff0a0a" stroke-width="1.45"/><line x1="612.77" y1="63.099999999999994" x2="612.77" y2="220.4" stroke="#ff0a0a" stroke-width="1.45"/><line x1="615.86" y1="63.099999999999994" x2="615.86" y2="220.4" stroke="#ff0a0a" stroke-width="1.45"/><line x1="618.95" y1="63.099999999999994" x2="618.95" y2="220.4" stroke="#ff0a0a" stroke-width="1.45"/><line x1="622.04" y1="63.099999999999994" x2="622.04" y2="220.4" stroke="#ff0a0a" stroke-width="1.45"/><line x1="625.13" y1="63.099999999999994" x2="625.13" y2="220.4" stroke="#ff0a0a" stroke-width="1.45"/></g>
<clipPath id="s3"><path d="M1573.2 219.7 L1577.2 107.3 L1570.0 107.3 L1584.0 65.4 L1597.2 107.3 L1590.0 107.3 L1594.0 219.7 Z"/></clipPath><g clip-path="url(#s3)"><line x1="1570.96" y1="63.400000000000006" x2="1570.96" y2="220.7" stroke="#ff0a0a" stroke-width="1.45"/><line x1="1574.05" y1="63.400000000000006" x2="1574.05" y2="220.7" stroke="#ff0a0a" stroke-width="1.45"/><line x1="1577.14" y1="63.400000000000006" x2="1577.14" y2="220.7" stroke="#ff0a0a" stroke-width="1.45"/><line x1="1580.23" y1="63.400000000000006" x2="1580.23" y2="220.7" stroke="#ff0a0a" stroke-width="1.45"/><line x1="1583.32" y1="63.400000000000006" x2="1583.32" y2="220.7" stroke="#ff0a0a" stroke-width="1.45"/><line x1="1586.41" y1="63.400000000000006" x2="1586.41" y2="220.7" stroke="#ff0a0a" stroke-width="1.45"/><line x1="1589.50" y1="63.400000000000006" x2="1589.50" y2="220.7" stroke="#ff0a0a" stroke-width="1.45"/><line x1="1592.59" y1="63.400000000000006" x2="1592.59" y2="220.7" stroke="#ff0a0a" stroke-width="1.45"/><line x1="1595.68" y1="63.400000000000006" x2="1595.68" y2="220.7" stroke="#ff0a0a" stroke-width="1.45"/></g>
<path d="M380.5 224.4 L385 111.2 L378.6 111.2 L391.8 70.4 L403.6 111.2 L397.5 111.2 L401.3 224.4 Z" fill="#ff3030" fill-opacity="0.84"/>
<path d="M504.6 219.5 L509.6 106.2 L502.8 106.2 L515.9 65.4 L528.9 106.2 L522.1 106.2 L525.9 219.5 Z" fill="#ff3030" fill-opacity="0.84"/>
<path d="M1396.1 201.6 L1448.2 101.6 L1441.4 98.6 L1470.6 67.3 L1465.5 109.8 L1459.4 106.7 L1413.5 210.8 Z" fill="#ff3030" fill-opacity="0.84"/>
<text x="170" y="167.5" font-size="34" textLength="90" lengthAdjust="spacingAndGlyphs" fill="#111" text-anchor="start" font-family="Liberation Sans, Arial, sans-serif">pump</text>
<text x="631.5" y="161" font-size="34" textLength="90" lengthAdjust="spacingAndGlyphs" fill="#111" text-anchor="start" font-family="Liberation Sans, Arial, sans-serif">pump</text>
<text x="411.5" y="263" font-size="34" textLength="83.4" lengthAdjust="spacingAndGlyphs" fill="#111" text-anchor="start" font-family="Liberation Sans, Arial, sans-serif">beam</text>
<text x="755.2" y="77" font-size="40" textLength="43" lengthAdjust="spacingAndGlyphs" fill="#111" text-anchor="start" font-family="Liberation Sans, Arial, sans-serif">(a)</text>
<text x="1369.5" y="235" font-size="34" textLength="85" lengthAdjust="spacingAndGlyphs" fill="#111" text-anchor="start" font-family="Liberation Sans, Arial, sans-serif">beam</text>
<text x="1598.6" y="167.5" font-size="34" textLength="89" lengthAdjust="spacingAndGlyphs" fill="#111" text-anchor="start" font-family="Liberation Sans, Arial, sans-serif">pump</text>
<text x="1697" y="77.4" font-size="40" textLength="46.6" lengthAdjust="spacingAndGlyphs" fill="#111" text-anchor="start" font-family="Liberation Sans, Arial, sans-serif">(b)</text>
<text x="1758.5" y="657.5" font-size="45" textLength="55.5" lengthAdjust="spacingAndGlyphs" fill="#111" text-anchor="start" font-family="Liberation Sans, Arial, sans-serif">(c)</text></g>
<g id="seed"><g clip-path="url(#clipSeed)">
<rect x="163.2" y="630.5" width="434.5" height="460.8" fill="#2c0046"/>
<ellipse cx="372" cy="879.5" rx="174" ry="175" fill="#480060" filter="url(#blur28)"/>
<ellipse cx="372" cy="879.5" rx="134" ry="135" fill="#680070" filter="url(#blur16)"/>
<ellipse cx="372" cy="879.5" rx="113" ry="114" fill="#b00086" filter="url(#blur9)"/>
<ellipse cx="372" cy="879.5" rx="103" ry="104" fill="#f00090" filter="url(#blur5)"/>
<g filter="url(#pixSeed)"><g filter="url(#blur3)">
<ellipse cx="372" cy="879.5" rx="97" ry="98" fill="#ff0a96"/>
<ellipse cx="372" cy="879.5" rx="90" ry="90.5" fill="#c814ff"/>
<ellipse cx="372" cy="879.5" rx="81" ry="82" fill="#0808e8"/>
<ellipse cx="372" cy="879.5" rx="64.5" ry="67.5" fill="#0a8cff"/>
<ellipse cx="372" cy="879.5" rx="51.5" ry="58" fill="#00f0ff"/>
<ellipse cx="372" cy="879.5" rx="42.5" ry="50" fill="#00e000"/>
<ellipse cx="372" cy="879.5" rx="22" ry="30" fill="#58e800"/>
<ellipse cx="372" cy="879.5" rx="16" ry="23" fill="#a4ee00"/>
<ellipse cx="372" cy="879.5" rx="8" ry="12" fill="#c8f000"/>
</g></g>
<ellipse cx="389.8" cy="773" rx="2.6" ry="5" fill="#e800a8" filter="url(#blur2)"/>
<rect x="187.5" y="633.1" width="5" height="5" fill="#5c5e52"/>
<rect x="212.6" y="633.1" width="5" height="5" fill="#5c5e52"/>
<rect x="257.2" y="637.9" width="5" height="5" fill="#5c5e52"/>
<rect x="201.9" y="643.0" width="5" height="5" fill="#5c5e52"/>
<rect x="207.0" y="648.1" width="5" height="5" fill="#5c5e52"/>
<rect x="177.8" y="648.1" width="5" height="5" fill="#5c5e52"/>
<rect x="182.4" y="652.9" width="5" height="5" fill="#5c5e52"/>
<rect x="267.7" y="652.9" width="5" height="5" fill="#5c5e52"/>
<rect x="212.6" y="658.0" width="5" height="5" fill="#5c5e52"/>
<rect x="192.6" y="663.1" width="5" height="5" fill="#5c5e52"/>
<rect x="232.0" y="658.0" width="5" height="5" fill="#5c5e52"/>
<rect x="237.1" y="663.1" width="5" height="5" fill="#5c5e52"/>
<rect x="177.8" y="672.8" width="5" height="5" fill="#5c5e52"/>
<rect x="182.4" y="677.9" width="5" height="5" fill="#5c5e52"/>
<rect x="212.6" y="677.9" width="5" height="5" fill="#5c5e52"/>
<rect x="237.6" y="683.0" width="5" height="5" fill="#5c5e52"/>
<rect x="277.6" y="672.8" width="5" height="5" fill="#5c5e52"/>
<rect x="282.7" y="677.9" width="5" height="5" fill="#5c5e52"/>
<rect x="162.8" y="688.1" width="5" height="5" fill="#5c5e52"/>
<rect x="262.8" y="688.1" width="5" height="5" fill="#5c5e52"/>
<rect x="192.6" y="692.3" width="5" height="5" fill="#5c5e52"/>
<rect x="202.3" y="697.4" width="5" height="5" fill="#5c5e52"/>
<rect x="182.4" y="748.5" width="5" height="5" fill="#5c5e52"/>
<rect x="316.7" y="637.9" width="5" height="5" fill="#5c5e52"/>
<rect x="311.6" y="643.0" width="5" height="5" fill="#5c5e52"/>
<rect x="321.8" y="643.0" width="5" height="5" fill="#5c5e52"/>
<rect x="326.9" y="648.1" width="5" height="5" fill="#5c5e52"/>
<rect x="301.9" y="652.9" width="5" height="5" fill="#5c5e52"/>
<rect x="307.0" y="658.0" width="5" height="5" fill="#5c5e52"/>
<rect x="317.6" y="663.1" width="5" height="5" fill="#5c5e52"/>
<rect x="297.2" y="663.1" width="5" height="5" fill="#5c5e52"/>
<rect x="312.1" y="667.7" width="5" height="5" fill="#5c5e52"/>
<rect x="302.3" y="667.7" width="5" height="5" fill="#5c5e52"/>
<rect x="327.8" y="667.7" width="5" height="5" fill="#5c5e52"/>
<rect x="297.2" y="672.8" width="5" height="5" fill="#5c5e52"/>
<rect x="307.4" y="672.8" width="5" height="5" fill="#5c5e52"/>
<rect x="347.3" y="677.9" width="5" height="5" fill="#5c5e52"/>
<rect x="352.4" y="633.1" width="5" height="5" fill="#5c5e52"/>
<rect x="352.4" y="637.9" width="5" height="5" fill="#5c5e52"/>
<rect x="357.5" y="643.0" width="5" height="5" fill="#5c5e52"/>
<rect x="347.3" y="648.1" width="5" height="5" fill="#5c5e52"/>
<rect x="347.3" y="652.9" width="5" height="5" fill="#5c5e52"/>
<rect x="377.1" y="628.0" width="5" height="5" fill="#5c5e52"/>
<rect x="377.1" y="637.9" width="5" height="5" fill="#5c5e52"/>
<rect x="387.3" y="637.9" width="5" height="5" fill="#5c5e52"/>
<rect x="392.4" y="652.9" width="5" height="5" fill="#5c5e52"/>
<rect x="427.3" y="643.0" width="5" height="5" fill="#5c5e52"/>
<rect x="417.1" y="648.1" width="5" height="5" fill="#5c5e52"/>
<rect x="417.1" y="652.9" width="5" height="5" fill="#5c5e52"/>
<rect x="432.4" y="628.0" width="5" height="5" fill="#5c5e52"/>
<rect x="462.2" y="633.8" width="5" height="5" fill="#5c5e52"/>
<rect x="462.2" y="637.9" width="5" height="5" fill="#5c5e52"/>
<rect x="467.0" y="637.9" width="5" height="5" fill="#5c5e52"/>
<rect x="487.4" y="633.8" width="5" height="5" fill="#5c5e52"/>
<rect x="487.4" y="637.9" width="5" height="5" fill="#5c5e52"/>
<rect x="497.6" y="633.1" width="5" height="5" fill="#5c5e52"/>
<rect x="502.3" y="637.9" width="5" height="5" fill="#5c5e52"/>
<rect x="507.1" y="637.9" width="5" height="5" fill="#5c5e52"/>
<rect x="512.5" y="633.1" width="5" height="5" fill="#5c5e52"/>
<rect x="512.5" y="637.9" width="5" height="5" fill="#5c5e52"/>
<rect x="517.3" y="637.9" width="5" height="5" fill="#5c5e52"/>
<rect x="522.7" y="633.1" width="5" height="5" fill="#5c5e52"/>
<rect x="527.5" y="633.1" width="5" height="5" fill="#5c5e52"/>
<rect x="477.2" y="642.7" width="5" height="5" fill="#5c5e52"/>
<rect x="512.5" y="642.7" width="5" height="5" fill="#5c5e52"/>
<rect x="542.5" y="642.7" width="5" height="5" fill="#5c5e52"/>
<rect x="562.2" y="637.9" width="5" height="5" fill="#5c5e52"/>
<rect x="577.2" y="631.8" width="5" height="5" fill="#5c5e52"/>
<rect x="577.2" y="642.7" width="5" height="5" fill="#5c5e52"/>
<rect x="588.0" y="642.7" width="5" height="5" fill="#5c5e52"/>
<rect x="532.3" y="648.1" width="5" height="5" fill="#5c5e52"/>
<rect x="557.4" y="648.1" width="5" height="5" fill="#5c5e52"/>
<rect x="567.6" y="648.1" width="5" height="5" fill="#5c5e52"/>
<rect x="467.6" y="652.9" width="5" height="5" fill="#5c5e52"/>
<rect x="512.5" y="652.9" width="5" height="5" fill="#5c5e52"/>
<rect x="562.2" y="652.9" width="5" height="5" fill="#5c5e52"/>
<rect x="507.8" y="657.6" width="5" height="5" fill="#5c5e52"/>
<rect x="522.7" y="657.6" width="5" height="5" fill="#5c5e52"/>
<rect x="527.5" y="657.6" width="5" height="5" fill="#5c5e52"/>
<rect x="537.7" y="657.6" width="5" height="5" fill="#5c5e52"/>
<rect x="547.9" y="657.6" width="5" height="5" fill="#5c5e52"/>
<rect x="552.7" y="657.6" width="5" height="5" fill="#5c5e52"/>
<rect x="557.4" y="657.6" width="5" height="5" fill="#5c5e52"/>
<rect x="497.6" y="663.1" width="5" height="5" fill="#5c5e52"/>
<rect x="502.3" y="663.1" width="5" height="5" fill="#5c5e52"/>
<rect x="507.8" y="663.1" width="5" height="5" fill="#5c5e52"/>
<rect x="517.3" y="663.1" width="5" height="5" fill="#5c5e52"/>
<rect x="532.3" y="663.1" width="5" height="5" fill="#5c5e52"/>
<rect x="547.9" y="663.1" width="5" height="5" fill="#5c5e52"/>
<rect x="512.5" y="667.8" width="5" height="5" fill="#5c5e52"/>
<rect x="537.7" y="667.8" width="5" height="5" fill="#5c5e52"/>
<rect x="542.5" y="667.8" width="5" height="5" fill="#5c5e52"/>
<rect x="547.9" y="667.8" width="5" height="5" fill="#5c5e52"/>
<rect x="557.4" y="667.8" width="5" height="5" fill="#5c5e52"/>
<rect x="567.6" y="667.8" width="5" height="5" fill="#5c5e52"/>
<rect x="572.4" y="667.8" width="5" height="5" fill="#5c5e52"/>
<rect x="487.4" y="673.3" width="5" height="5" fill="#5c5e52"/>
<rect x="552.7" y="673.3" width="5" height="5" fill="#5c5e52"/>
<rect x="577.2" y="673.3" width="5" height="5" fill="#5c5e52"/>
<rect x="588.0" y="673.3" width="5" height="5" fill="#5c5e52"/>
<rect x="507.8" y="678.0" width="5" height="5" fill="#5c5e52"/>
<rect x="552.7" y="678.0" width="5" height="5" fill="#5c5e52"/>
<rect x="557.4" y="678.0" width="5" height="5" fill="#5c5e52"/>
<rect x="562.2" y="678.0" width="5" height="5" fill="#5c5e52"/>
<rect x="517.3" y="682.8" width="5" height="5" fill="#5c5e52"/>
<rect x="502.3" y="688.2" width="5" height="5" fill="#5c5e52"/>
<rect x="532.3" y="688.2" width="5" height="5" fill="#5c5e52"/>
<rect x="582.6" y="688.2" width="5" height="5" fill="#5c5e52"/>
<rect x="482.6" y="693.0" width="5" height="5" fill="#5c5e52"/>
<rect x="552.7" y="693.0" width="5" height="5" fill="#5c5e52"/>
<rect x="537.7" y="697.8" width="5" height="5" fill="#5c5e52"/>
<rect x="572.4" y="708.0" width="5" height="5" fill="#5c5e52"/>
<rect x="588.0" y="708.0" width="5" height="5" fill="#5c5e52"/>
<rect x="577.2" y="722.9" width="5" height="5" fill="#5c5e52"/>
<rect x="547.9" y="727.7" width="5" height="5" fill="#5c5e52"/>
<rect x="552.7" y="727.7" width="5" height="5" fill="#5c5e52"/>
<rect x="527.5" y="733.1" width="5" height="5" fill="#5c5e52"/>
<rect x="588.0" y="742.7" width="5" height="5" fill="#5c5e52"/>
<rect x="552.7" y="752.9" width="5" height="5" fill="#5c5e52"/>
<rect x="567.6" y="757.6" width="5" height="5" fill="#5c5e52"/>
<rect x="172.0" y="1039.0" width="5" height="5" fill="#5c5e52"/>
<rect x="162.5" y="1044.0" width="5" height="5" fill="#5c5e52"/>
<rect x="177.5" y="1053.5" width="5" height="5" fill="#5c5e52"/>
<rect x="182.0" y="1073.5" width="5" height="5" fill="#5c5e52"/>
<rect x="172.0" y="944.5" width="5" height="5" fill="#5c5e52"/>
<rect x="548.5" y="1027.5" width="5" height="5" fill="#5c5e52"/>
<line x1="371.2" y1="630.5" x2="371.2" y2="1091.3" stroke="#15101a" stroke-width="2.5"/>
<line x1="371.2" y1="630.5" x2="371.2" y2="1091.3" stroke="#ffffff" stroke-opacity="0.78" stroke-width="2.5" stroke-dasharray="6.60 2.60" stroke-dashoffset="0"/>
<line x1="163.2" y1="879.3" x2="597.7" y2="879.3" stroke="#101010" stroke-width="1.5"/>
<line x1="163.2" y1="879.3" x2="597.7" y2="879.3" stroke="#f4eaf6" stroke-width="1.6" stroke-dasharray="2.60 6.60" stroke-dashoffset="-3"/>
<path d="M162.8 1089.7 C173.7 1089.3 212.2 1088.5 227.9 1087.3 C243.7 1086.1 249.1 1084.9 257.3 1082.4 C265.5 1080.0 269.5 1077.5 276.9 1072.6 C284.2 1067.7 293.2 1059.9 301.4 1053.0 C309.6 1046.1 318.5 1037.9 325.9 1031.0 C333.2 1024.1 339.8 1016.3 345.5 1011.4 C351.2 1006.5 356.1 1003.6 360.2 1001.6 C364.3 999.6 365.9 999.8 370.0 999.6 C374.1 999.4 379.0 998.2 384.7 1000.6 C390.4 1003.0 397.7 1008.3 404.2 1013.8 C410.7 1019.3 416.4 1026.1 423.8 1033.4 C431.2 1040.8 440.1 1051.0 448.3 1057.9 C456.5 1064.8 464.6 1070.5 472.8 1075.0 C481.0 1079.5 489.1 1082.5 497.3 1084.8 C505.5 1087.1 505.1 1087.8 521.8 1088.7 C538.5 1089.6 585.1 1090.0 597.7 1090.2" fill="none" stroke="#e6cdea" stroke-width="1.5"/>
</g>
<text x="333.2" y="678.4" font-size="40" textLength="83.3" lengthAdjust="spacingAndGlyphs" fill="#fff" font-family="Liberation Sans, Arial, sans-serif">seed</text>
<text x="451.7" y="1018.7" font-size="31" textLength="116.6" lengthAdjust="spacingAndGlyphs" fill="#fff" font-family="Liberation Sans, Arial, sans-serif">1064 nm</text></g>
<g id="pump"><g clip-path="url(#clipPump)">
<rect x="727.8" y="628" width="391.4" height="540.5" fill="#33004e"/>
<ellipse cx="932" cy="880" rx="160" ry="200" fill="#50006a" filter="url(#blur60)"/>
<ellipse cx="934" cy="872" rx="150" ry="95" fill="#660072" filter="url(#blur28)"/>
<ellipse cx="864.2" cy="870" rx="66" ry="67" fill="#a80080" filter="url(#blur9)"/>
<ellipse cx="1003.6" cy="870.3" rx="61" ry="61" fill="#a80080" filter="url(#blur9)"/>
<ellipse cx="934" cy="872" rx="22" ry="44" fill="#b00080" filter="url(#blur9)"/>
<ellipse cx="932.8" cy="871.5" rx="13" ry="30" fill="#e8008e" filter="url(#blur5)"/>
<g filter="url(#blur2)">
<ellipse cx="864.2" cy="870" rx="64" ry="65" fill="#d0007c"/>
<ellipse cx="1003.6" cy="870.3" rx="60" ry="60" fill="#d0007c"/>
<ellipse cx="864.2" cy="870.5" rx="60" ry="61" fill="#ff0a8c"/>
<ellipse cx="1003.6" cy="870.3" rx="56.5" ry="57" fill="#ff0a8c"/>
<ellipse cx="864.2" cy="871.5" rx="56.5" ry="57" fill="#c020ff"/>
<ellipse cx="1003.6" cy="870.3" rx="54" ry="54.5" fill="#c020ff"/>
<ellipse cx="864.4" cy="871.8" rx="54" ry="54.8" fill="#1008e0"/>
<ellipse cx="1003.6" cy="870.3" rx="52.3" ry="53" fill="#1008e0"/>
</g>
<g filter="url(#blur2)">
<ellipse cx="865.5" cy="870.5" rx="48" ry="49" fill="url(#discFill)"/>
<ellipse cx="1003.3" cy="869.5" rx="47.3" ry="48" fill="url(#discFill)"/>
</g>
<rect x="727" y="1000" width="240" height="170" filter="url(#noise)" mask="url(#noiseMask)"/>
<line x1="931.7" y1="628" x2="931.7" y2="1168.5" stroke="#100018" stroke-opacity="0.4" stroke-width="2"/>
<line x1="931.7" y1="628" x2="931.7" y2="1168.5" stroke="#d8c4e4" stroke-opacity="0.62" stroke-width="1.9" stroke-dasharray="3.3 2.1"/>
<line x1="727.8" y1="872.3" x2="1119.2" y2="872.3" stroke="#0a0020" stroke-opacity="0.5" stroke-width="1.8"/>
<line x1="727.8" y1="872.3" x2="1119.2" y2="872.3" stroke="#e0d0ea" stroke-opacity="0.6" stroke-width="1.6" stroke-dasharray="1.5 3.1"/>
<path d="M727.8 1164.0 L730.5 1163.8 L733.2 1163.6 L735.8 1163.4 L738.5 1163.2 L741.2 1163.0 L743.9 1162.8 L746.6 1162.5 L749.3 1162.3 L752.0 1162.1 L754.6 1161.9 L757.3 1161.7 L760.0 1161.5 L762.6 1161.3 L765.2 1161.0 L767.8 1160.8 L770.4 1160.5 L773.0 1160.3 L775.6 1160.0 L778.2 1159.8 L780.8 1159.5 L783.4 1159.3 L786.0 1159.0 L788.6 1158.8 L791.2 1158.5 L793.8 1158.3 L796.9 1154.2 L800.0 1150.0 L802.6 1145.8 L805.3 1141.5 L807.9 1137.2 L810.5 1133.0 L813.2 1128.8 L815.8 1124.5 L818.5 1120.2 L821.1 1116.0 L824.1 1114.5 L827.0 1112.3 L830.0 1112.4 L832.5 1109.9 L835.0 1110.7 L837.5 1108.8 L840.0 1108.2 L842.5 1107.6 L845.3 1106.6 L848.0 1105.5 L850.8 1104.8 L853.6 1104.1 L856.3 1105.2 L859.1 1104.0 L861.8 1103.6 L864.5 1105.7 L867.3 1104.6 L870.0 1105.3 L872.6 1105.7 L875.2 1107.2 L877.7 1107.7 L880.3 1108.5 L882.9 1108.3 L885.6 1109.1 L888.2 1109.8 L890.9 1110.7 L893.6 1111.0 L896.3 1111.8 L898.9 1114.4 L901.6 1115.2 L904.3 1114.1 L907.2 1115.5 L910.2 1117.7 L913.1 1125.2 L916.0 1131.0 L919.0 1136.5 L922.1 1142.1 L924.8 1143.3 L927.5 1144.5 L930.1 1145.7 L932.8 1146.9 L935.6 1145.9 L938.5 1145.0 L941.3 1144.0 L944.2 1143.1 L947.0 1142.1 L951.0 1133.0 L955.3 1122.6 L960.0 1115.9 L962.8 1116.1 L965.6 1113.5 L968.4 1113.6 L971.2 1112.6 L973.9 1112.0 L976.7 1108.9 L979.5 1108.8 L982.2 1107.6 L985.0 1106.3 L987.6 1104.2 L990.3 1105.5 L992.9 1106.9 L995.6 1105.6 L998.2 1106.7 L1000.9 1106.2 L1003.5 1106.9 L1006.2 1106.3 L1008.8 1105.4 L1011.4 1106.0 L1014.0 1106.6 L1016.6 1107.5 L1019.2 1109.8 L1021.8 1109.5 L1024.3 1110.5 L1026.9 1110.4 L1029.5 1111.1 L1032.1 1112.1 L1034.7 1112.9 L1037.3 1113.4 L1040.3 1115.3 L1043.2 1115.6 L1046.2 1118.4 L1049.2 1119.7 L1052.6 1130.4 L1056.0 1140.0 L1059.1 1150.0 L1062.2 1160.0 L1065.1 1161.5 L1068.0 1163.0 L1071.0 1163.2 L1074.0 1163.5 L1077.0 1163.8 L1080.0 1164.0 L1082.6 1164.1 L1085.2 1164.2 L1087.8 1164.3 L1090.5 1164.4 L1093.1 1164.5 L1095.7 1164.6 L1098.3 1164.7 L1100.9 1164.7 L1103.5 1164.8 L1106.1 1164.9 L1108.7 1165.0 L1111.4 1165.1 L1114.0 1165.2 L1116.6 1165.3 L1119.2 1165.4" fill="none" stroke="#eee0f2" stroke-width="2.1" stroke-linejoin="round"/>
<line x1="884.1" y1="1110" x2="884.1" y2="1144.5" stroke="#e9d6ee" stroke-width="1.6"/>
<line x1="948.9" y1="1141" x2="948.9" y2="1155" stroke="#e9d6ee" stroke-width="1.6"/>
<line x1="989.3" y1="1106.5" x2="989.3" y2="1117.2" stroke="#e9d6ee" stroke-width="1.6"/>
<line x1="1030.2" y1="1111.3" x2="1030.2" y2="1127.9" stroke="#e9d6ee" stroke-width="1.6"/>
<line x1="964.4" y1="1116" x2="964.4" y2="1123" stroke="#e9d6ee" stroke-width="1.6"/>
<line x1="1034.5" y1="1112" x2="1034.5" y2="1118" stroke="#e9d6ee" stroke-width="1.6"/>
<rect x="727.8" y="1166.2" width="391.4" height="2.6" fill="#a58bb5"/>
</g>
<text x="872.5" y="677.5" font-size="42" textLength="110.8" lengthAdjust="spacingAndGlyphs" fill="#fff" font-family="Liberation Sans, Arial, sans-serif">pump</text>
<text x="833.3" y="765.7" font-size="29" textLength="33.4" lengthAdjust="spacingAndGlyphs" fill="#fff" font-family="Liberation Sans, Arial, sans-serif">A1</text>
<text x="995.1" y="765.7" font-size="29" textLength="35.8" lengthAdjust="spacingAndGlyphs" fill="#fff" font-family="Liberation Sans, Arial, sans-serif">A2</text>
<text x="988.2" y="1020.1" font-size="31" textLength="102.5" lengthAdjust="spacingAndGlyphs" fill="#fff" font-family="Liberation Sans, Arial, sans-serif">793 nm</text></g>
<g id="output"><g clip-path="url(#clipOut)">
<rect x="1249.6" y="630.4" width="452.9" height="462.6" fill="#2c0046"/>
<ellipse cx="1473" cy="843.3" rx="199" ry="173" fill="#480060" filter="url(#blur28)"/>
<ellipse cx="1473" cy="843.3" rx="159" ry="133" fill="#680070" filter="url(#blur16)"/>
<ellipse cx="1473" cy="843.3" rx="138" ry="112" fill="#b00086" filter="url(#blur9)"/>
<ellipse cx="1473" cy="843.3" rx="128" ry="102" fill="#f00090" filter="url(#blur5)"/>
<g filter="url(#pixOut)">
<g filter="url(#blur3)">
<ellipse cx="1473" cy="843.3" rx="120" ry="92.5" fill="#ff0a96"/>
<ellipse cx="1473" cy="843.3" rx="114" ry="85" fill="#c814ff"/>
<ellipse cx="1473" cy="843.3" rx="108.8" ry="78" fill="#0808e8"/>
<ellipse cx="1473" cy="843.3" rx="102" ry="66" fill="#0a8cff"/>
<ellipse cx="1473" cy="843.3" rx="95" ry="58.5" fill="#00f0ff"/>
<ellipse cx="1473" cy="843.3" rx="89.6" ry="51.5" fill="#00e000"/>
</g>
<g filter="url(#blur3)">
<rect x="1393" y="806.3" width="160" height="74" rx="48" ry="35" fill="#80f000"/><rect x="1398.5" y="811.8" width="149" height="63" rx="43" ry="30" fill="#ffff00"/>
<rect x="1411" y="823.3" width="126" height="41" rx="24" ry="19" fill="#ffd800"/><rect x="1420" y="830.3" width="110" height="27" rx="16" ry="12.5" fill="#ffa400"/>
</g></g>
<rect x="1648" y="631" width="5" height="5" fill="#5c5a50"/>
<rect x="1678" y="631" width="5" height="5" fill="#5c5a50"/>
<rect x="1678" y="676" width="5" height="5" fill="#5c5a50"/>
<line x1="1479.1" y1="630.4" x2="1479.1" y2="1093" stroke="#15101a" stroke-width="2.5"/>
<line x1="1479.1" y1="630.4" x2="1479.1" y2="1093" stroke="#ffffff" stroke-opacity="0.78" stroke-width="2.5" stroke-dasharray="6.88 2.71" stroke-dashoffset="0"/>
<line x1="1249.6" y1="837.5" x2="1702.5" y2="837.5" stroke="#101010" stroke-width="1.5"/>
<line x1="1249.6" y1="837.5" x2="1702.5" y2="837.5" stroke="#f4eaf6" stroke-width="1.6" stroke-dasharray="2.71 6.88" stroke-dashoffset="-3"/>
<path d="M1249.8 1089.9 L1282.9 1088.0 L1309.3 1086.4 L1335.7 1083.8 L1348.9 1078.0 L1362.1 1064.8 L1375.3 1041.0 L1388.6 1009.3 L1399.1 989.5 L1409.7 973.6 L1425.6 957.7 L1436.1 956.4 L1441.4 952.5 L1445.4 955.1 L1453.3 956.4 L1459.9 952.5 L1478.4 951.7 L1483.7 955.1 L1499.6 953.3 L1507.5 949.0 L1514.1 952.5 L1524.7 955.9 L1533.9 969.6 L1547.1 990.8 L1560.3 1014.6 L1573.6 1038.4 L1586.8 1059.5 L1600.0 1074.0 L1613.2 1082.7 L1626.4 1087.2 L1652.8 1089.9 L1702.2 1091.2" fill="none" stroke="#ead4ee" stroke-width="1.7" stroke-linejoin="round"/>
<rect x="1249.6" y="1091" width="452.9" height="2.4" fill="#b9a3c6"/>
</g>
<text x="1428.3" y="676" font-size="42" textLength="125" lengthAdjust="spacingAndGlyphs" fill="#fff" font-family="Liberation Sans, Arial, sans-serif">output</text>
<text x="1278.9" y="1008" font-size="31" textLength="92.5" lengthAdjust="spacingAndGlyphs" fill="#fff" font-family="Liberation Sans, Arial, sans-serif">A1=A2</text>
<text x="1576.2" y="1008" font-size="31" textLength="109.7" lengthAdjust="spacingAndGlyphs" fill="#fff" font-family="Liberation Sans, Arial, sans-serif">1064nm</text></g>
<path d="M643.4 877 H677.4 M660.4 860 V894" stroke="#111" stroke-width="3.4" fill="none"/>
<path d="M1163.4 859 H1197.6 M1163.4 873.6 H1197.6" stroke="#111" stroke-width="3.2" fill="none"/>
</svg></body></html>
